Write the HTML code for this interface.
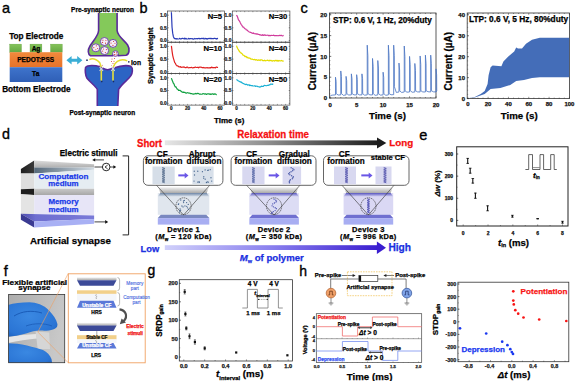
<!DOCTYPE html>
<html><head><meta charset="utf-8"><style>
html,body{margin:0;padding:0;background:#fff;}
svg{display:block;}
text{font-family:"Liberation Sans",sans-serif;}
</style></head><body>
<svg width="575" height="381" viewBox="0 0 575 381">
<rect x="0" y="0" width="575" height="381" fill="#fff"/>
<text transform="translate(2.10,12.90) scale(1,1.0)" x="0" y="0" font-size="14.5" font-weight="normal" fill="#000" stroke="#000" stroke-width="0.35" text-anchor="start" font-family="Liberation Sans"  style="">a</text>
<text transform="translate(9.20,39.20) scale(1,1.0)" x="0" y="0" font-size="8.2" font-weight="bold" fill="#000" stroke="#000" stroke-width="0.25" text-anchor="start" font-family="Liberation Sans"  style="">Top Electrode</text>
<text transform="translate(2.20,92.20) scale(1,1.0)" x="0" y="0" font-size="8.2" font-weight="bold" fill="#000" stroke="#000" stroke-width="0.25" text-anchor="start" font-family="Liberation Sans"  style="">Bottom Electrode</text>
<defs><linearGradient id="gOr" x1="0" y1="0" x2="0" y2="1"><stop offset="0" stop-color="#f28a3c"/><stop offset="1" stop-color="#e6722a"/></linearGradient><linearGradient id="gBl" x1="0" y1="0" x2="0" y2="1"><stop offset="0" stop-color="#3f74cc"/><stop offset="1" stop-color="#2f5fb6"/></linearGradient><linearGradient id="gGr" x1="0" y1="0" x2="0" y2="1"><stop offset="0" stop-color="#86c45a"/><stop offset="1" stop-color="#66a844"/></linearGradient></defs>
<rect x="9.70" y="44.10" width="11.80" height="8.10" fill="url(#gGr)" stroke="#5a9a3a" stroke-width="0.3" />
<rect x="30.00" y="44.10" width="11.90" height="8.10" fill="url(#gGr)" stroke="#5a9a3a" stroke-width="0.3" />
<rect x="50.50" y="44.10" width="11.80" height="8.10" fill="url(#gGr)" stroke="#5a9a3a" stroke-width="0.3" />
<rect x="9.70" y="52.20" width="52.60" height="15.00" fill="url(#gOr)" stroke="none" stroke-width="0" />
<rect x="9.70" y="67.20" width="52.60" height="14.80" fill="url(#gBl)" stroke="none" stroke-width="0" />
<text transform="translate(36.00,50.60) scale(1,1.0)" x="0" y="0" font-size="6.5" font-weight="bold" fill="#000" stroke="#000" stroke-width="0.25" text-anchor="middle" font-family="Liberation Sans"  style="">Ag</text>
<text transform="translate(35.70,61.90) scale(1,1.0)" x="0" y="0" font-size="6.5" font-weight="bold" fill="#000" stroke="#000" stroke-width="0.25" text-anchor="middle" font-family="Liberation Sans"  style="">PEDOT:PSS</text>
<text transform="translate(35.70,75.60) scale(1,1.0)" x="0" y="0" font-size="6.6" font-weight="bold" fill="#000" stroke="#000" stroke-width="0.25" text-anchor="middle" font-family="Liberation Sans"  style="">Ta</text>
<polygon points="66.40,60.20 71.60,56.00 71.60,58.70 77.20,58.70 77.20,56.00 82.40,60.20 77.20,64.40 77.20,61.70 71.60,61.70 71.60,64.40" fill="#3aaed6" stroke="none" stroke-width="0" />
<text transform="translate(71.10,11.70) scale(1,1.0)" x="0" y="0" font-size="6.5" font-weight="bold" fill="#000" stroke="#000" stroke-width="0.25" text-anchor="start" font-family="Liberation Sans"  style="">Pre-synaptic neuron</text>
<text transform="translate(69.40,115.20) scale(1,1.0)" x="0" y="0" font-size="6.45" font-weight="bold" fill="#000" stroke="#000" stroke-width="0.25" text-anchor="start" font-family="Liberation Sans"  style="">Post-synaptic neuron</text>
<text transform="translate(131.00,64.60) scale(1,1.0)" x="0" y="0" font-size="6.7" font-weight="bold" fill="#000" stroke="#000" stroke-width="0.25" text-anchor="start" font-family="Liberation Sans"  style="">ion</text>
<path d="M98.6,13 L98.6,30.5 C98.3,36 93,41 90,46 C87.5,50 87.8,54.3 90.5,55.7 L112.6,55.7 C113.5,52 117.5,52 118.3,55.7 L126,55.2 C129.6,54.2 129.8,48.5 127.6,45 C124.6,40.3 117.6,36.4 117.1,30.5 L117.1,13 Z" fill="#84c95a" stroke="none" stroke-width="1" />
<path d="M98.6,13 L98.6,30.5 C98.3,36 93,41 90,46 C87.5,50 87.8,54.3 90.5,55.7 L112.6,55.7 C113.5,52 117.5,52 118.3,55.7 L126,55.2 C129.6,54.2 129.8,48.5 127.6,45 C124.6,40.3 117.6,36.4 117.1,30.5 L117.1,13" fill="none" stroke="#5a2a9a" stroke-width="1.6" />
<circle cx="104.40" cy="41.50" r="4.00" fill="#f4eef8" stroke="#6a3aa8" stroke-width="0.9" />
<circle cx="102.91" cy="40.17" r="0.55" fill="#d03030" stroke="none" stroke-width="0" />
<circle cx="105.91" cy="40.19" r="0.55" fill="#d03030" stroke="none" stroke-width="0" />
<circle cx="105.50" cy="43.17" r="0.55" fill="#d03030" stroke="none" stroke-width="0" />
<circle cx="102.60" cy="42.38" r="0.55" fill="#d03030" stroke="none" stroke-width="0" />
<circle cx="113.00" cy="43.40" r="4.00" fill="#f4eef8" stroke="#6a3aa8" stroke-width="0.9" />
<circle cx="114.99" cy="43.21" r="0.55" fill="#d03030" stroke="none" stroke-width="0" />
<circle cx="112.94" cy="45.40" r="0.55" fill="#d03030" stroke="none" stroke-width="0" />
<circle cx="111.03" cy="43.08" r="0.55" fill="#d03030" stroke="none" stroke-width="0" />
<circle cx="113.57" cy="41.48" r="0.55" fill="#d03030" stroke="none" stroke-width="0" />
<circle cx="95.80" cy="47.80" r="4.00" fill="#f4eef8" stroke="#6a3aa8" stroke-width="0.9" />
<circle cx="95.84" cy="49.80" r="0.55" fill="#d03030" stroke="none" stroke-width="0" />
<circle cx="93.81" cy="47.58" r="0.55" fill="#d03030" stroke="none" stroke-width="0" />
<circle cx="96.28" cy="45.86" r="0.55" fill="#d03030" stroke="none" stroke-width="0" />
<circle cx="97.67" cy="48.52" r="0.55" fill="#d03030" stroke="none" stroke-width="0" />
<circle cx="104.60" cy="50.60" r="4.00" fill="#f4eef8" stroke="#6a3aa8" stroke-width="0.9" />
<circle cx="103.40" cy="49.00" r="0.55" fill="#d03030" stroke="none" stroke-width="0" />
<circle cx="106.34" cy="49.62" r="0.55" fill="#d03030" stroke="none" stroke-width="0" />
<circle cx="105.35" cy="52.45" r="0.55" fill="#d03030" stroke="none" stroke-width="0" />
<circle cx="102.67" cy="51.11" r="0.55" fill="#d03030" stroke="none" stroke-width="0" />
<circle cx="115.40" cy="53.60" r="2.80" fill="#f4eef8" stroke="#6a3aa8" stroke-width="0.9" />
<circle cx="114.46" cy="54.64" r="0.55" fill="#d03030" stroke="none" stroke-width="0" />
<circle cx="114.49" cy="52.54" r="0.55" fill="#d03030" stroke="none" stroke-width="0" />
<circle cx="116.57" cy="52.83" r="0.55" fill="#d03030" stroke="none" stroke-width="0" />
<circle cx="116.01" cy="54.86" r="0.55" fill="#d03030" stroke="none" stroke-width="0" />
<circle cx="112.00" cy="59.00" r="0.50" fill="#d03030" stroke="none" stroke-width="0" />
<circle cx="114.50" cy="58.50" r="0.50" fill="#d03030" stroke="none" stroke-width="0" />
<circle cx="111.50" cy="61.50" r="0.50" fill="#d03030" stroke="none" stroke-width="0" />
<circle cx="114.00" cy="61.20" r="0.50" fill="#d03030" stroke="none" stroke-width="0" />
<circle cx="113.00" cy="63.50" r="0.50" fill="#d03030" stroke="none" stroke-width="0" />
<path d="M97.3,106 L97.3,89.4 C95.5,86 90,82 87,78.3 C85.2,75.5 85,70 85.6,67.4 C87,65.5 92,65.3 96,65.8 C101,66.5 104,69.7 107.6,69.7 C111,69.7 117,66 125.7,65.6 C129,65.5 131.6,66.2 132.2,68.4 C132.8,71.5 131.5,75.6 128.8,78.3 C126,81.2 121,85 118.6,89.4 L117.8,106 Z" fill="#2c64c4" stroke="none" stroke-width="1" />
<path d="M97.3,106 L97.3,89.4 C95.5,86 90,82 87,78.3 C85.2,75.5 85,70 85.6,67.4 C87,65.5 92,65.3 96,65.8 C101,66.5 104,69.7 107.6,69.7 C111,69.7 117,66 125.7,65.6 C129,65.5 131.6,66.2 132.2,68.4 C132.8,71.5 131.5,75.6 128.8,78.3 C126,81.2 121,85 118.6,89.4 L117.8,106" fill="none" stroke="#5a2a9a" stroke-width="1.6" />
<line x1="101.30" y1="70.20" x2="101.30" y2="80.60" stroke="#e8e23a" stroke-width="1.6" />
<line x1="99.60" y1="66.80" x2="103.00" y2="70.80" stroke="#d8d8d8" stroke-width="1.1" />
<line x1="103.00" y1="66.80" x2="99.60" y2="70.80" stroke="#d8d8d8" stroke-width="1.1" />
<circle cx="101.80" cy="81.60" r="0.80" fill="#1a2a60" stroke="none" stroke-width="0" />
<circle cx="99.80" cy="65.60" r="0.45" fill="#d03030" stroke="none" stroke-width="0" />
<circle cx="102.50" cy="65.20" r="0.45" fill="#d03030" stroke="none" stroke-width="0" />
<line x1="113.00" y1="70.20" x2="113.00" y2="80.60" stroke="#e8e23a" stroke-width="1.6" />
<line x1="111.30" y1="66.80" x2="114.70" y2="70.80" stroke="#d8d8d8" stroke-width="1.1" />
<line x1="114.70" y1="66.80" x2="111.30" y2="70.80" stroke="#d8d8d8" stroke-width="1.1" />
<circle cx="113.50" cy="81.60" r="0.80" fill="#1a2a60" stroke="none" stroke-width="0" />
<circle cx="111.50" cy="65.60" r="0.45" fill="#d03030" stroke="none" stroke-width="0" />
<circle cx="114.20" cy="65.20" r="0.45" fill="#d03030" stroke="none" stroke-width="0" />
<path d="M89.4,59.6 C92,58.2 95.5,58.4 99.7,62.6 L101.3,67" fill="none" stroke="#e4dc30" stroke-width="1.5" />
<path d="M127.2,60.9 C124,59.2 120,59.6 117.4,61.4 C115,63 113.8,65 113.2,67" fill="none" stroke="#e4dc30" stroke-width="1.5" />
<circle cx="87.00" cy="60.20" r="0.85" fill="#1a2a60" stroke="none" stroke-width="0" />
<circle cx="128.80" cy="61.80" r="0.85" fill="#1a2a60" stroke="none" stroke-width="0" />
<text transform="translate(139.50,12.90) scale(1,1.0)" x="0" y="0" font-size="14.5" font-weight="normal" fill="#000" stroke="#000" stroke-width="0.35" text-anchor="start" font-family="Liberation Sans"  style="">b</text>
<text transform="translate(153.00,55.75) rotate(-90) scale(1,1.0)" x="0" y="0" font-size="7.45" font-weight="bold" fill="#000" stroke="#000" stroke-width="0.25" text-anchor="middle" font-family="Liberation Sans" >Synaptic weight</text>
<text transform="translate(229.20,123.00) scale(1,1.0)" x="0" y="0" font-size="8.0" font-weight="bold" fill="#000" stroke="#000" stroke-width="0.25" text-anchor="middle" font-family="Liberation Sans"  style="">Time (s)</text>
<rect x="167.60" y="11.00" width="57.00" height="31.20" fill="none" stroke="#444" stroke-width="0.7" />
<text transform="translate(166.70,17.00) scale(1,1.0)" x="0" y="0" font-size="4.9" font-weight="bold" fill="#111" stroke="#111" stroke-width="0.2" text-anchor="end" font-family="Liberation Sans"  style="">1.0</text>
<line x1="167.60" y1="15.20" x2="168.80" y2="15.20" stroke="#444" stroke-width="0.5" />
<line x1="224.60" y1="15.20" x2="223.40" y2="15.20" stroke="#444" stroke-width="0.5" />
<text transform="translate(166.70,29.60) scale(1,1.0)" x="0" y="0" font-size="4.9" font-weight="bold" fill="#111" stroke="#111" stroke-width="0.2" text-anchor="end" font-family="Liberation Sans"  style="">0.5</text>
<line x1="167.60" y1="27.80" x2="168.80" y2="27.80" stroke="#444" stroke-width="0.5" />
<line x1="224.60" y1="27.80" x2="223.40" y2="27.80" stroke="#444" stroke-width="0.5" />
<text transform="translate(166.70,42.20) scale(1,1.0)" x="0" y="0" font-size="4.9" font-weight="bold" fill="#111" stroke="#111" stroke-width="0.2" text-anchor="end" font-family="Liberation Sans"  style="">0.0</text>
<line x1="167.60" y1="40.40" x2="168.80" y2="40.40" stroke="#444" stroke-width="0.5" />
<line x1="224.60" y1="40.40" x2="223.40" y2="40.40" stroke="#444" stroke-width="0.5" />
<line x1="171.40" y1="42.20" x2="171.40" y2="41.00" stroke="#444" stroke-width="0.5" />
<line x1="171.40" y1="11.00" x2="171.40" y2="12.20" stroke="#444" stroke-width="0.5" />
<line x1="175.45" y1="42.20" x2="175.45" y2="41.50" stroke="#444" stroke-width="0.5" />
<line x1="175.45" y1="11.00" x2="175.45" y2="11.70" stroke="#444" stroke-width="0.5" />
<line x1="179.50" y1="42.20" x2="179.50" y2="41.00" stroke="#444" stroke-width="0.5" />
<line x1="179.50" y1="11.00" x2="179.50" y2="12.20" stroke="#444" stroke-width="0.5" />
<line x1="183.55" y1="42.20" x2="183.55" y2="41.50" stroke="#444" stroke-width="0.5" />
<line x1="183.55" y1="11.00" x2="183.55" y2="11.70" stroke="#444" stroke-width="0.5" />
<line x1="187.60" y1="42.20" x2="187.60" y2="41.00" stroke="#444" stroke-width="0.5" />
<line x1="187.60" y1="11.00" x2="187.60" y2="12.20" stroke="#444" stroke-width="0.5" />
<line x1="191.65" y1="42.20" x2="191.65" y2="41.50" stroke="#444" stroke-width="0.5" />
<line x1="191.65" y1="11.00" x2="191.65" y2="11.70" stroke="#444" stroke-width="0.5" />
<line x1="195.70" y1="42.20" x2="195.70" y2="41.00" stroke="#444" stroke-width="0.5" />
<line x1="195.70" y1="11.00" x2="195.70" y2="12.20" stroke="#444" stroke-width="0.5" />
<line x1="199.75" y1="42.20" x2="199.75" y2="41.50" stroke="#444" stroke-width="0.5" />
<line x1="199.75" y1="11.00" x2="199.75" y2="11.70" stroke="#444" stroke-width="0.5" />
<line x1="203.80" y1="42.20" x2="203.80" y2="41.00" stroke="#444" stroke-width="0.5" />
<line x1="203.80" y1="11.00" x2="203.80" y2="12.20" stroke="#444" stroke-width="0.5" />
<line x1="207.85" y1="42.20" x2="207.85" y2="41.50" stroke="#444" stroke-width="0.5" />
<line x1="207.85" y1="11.00" x2="207.85" y2="11.70" stroke="#444" stroke-width="0.5" />
<line x1="211.90" y1="42.20" x2="211.90" y2="41.00" stroke="#444" stroke-width="0.5" />
<line x1="211.90" y1="11.00" x2="211.90" y2="12.20" stroke="#444" stroke-width="0.5" />
<line x1="215.95" y1="42.20" x2="215.95" y2="41.50" stroke="#444" stroke-width="0.5" />
<line x1="215.95" y1="11.00" x2="215.95" y2="11.70" stroke="#444" stroke-width="0.5" />
<line x1="220.00" y1="42.20" x2="220.00" y2="41.00" stroke="#444" stroke-width="0.5" />
<line x1="220.00" y1="11.00" x2="220.00" y2="12.20" stroke="#444" stroke-width="0.5" />
<line x1="167.60" y1="40.40" x2="168.30" y2="40.40" stroke="#444" stroke-width="0.4" />
<line x1="224.60" y1="40.40" x2="223.90" y2="40.40" stroke="#444" stroke-width="0.4" />
<line x1="167.60" y1="37.88" x2="168.30" y2="37.88" stroke="#444" stroke-width="0.4" />
<line x1="224.60" y1="37.88" x2="223.90" y2="37.88" stroke="#444" stroke-width="0.4" />
<line x1="167.60" y1="35.36" x2="168.30" y2="35.36" stroke="#444" stroke-width="0.4" />
<line x1="224.60" y1="35.36" x2="223.90" y2="35.36" stroke="#444" stroke-width="0.4" />
<line x1="167.60" y1="32.84" x2="168.30" y2="32.84" stroke="#444" stroke-width="0.4" />
<line x1="224.60" y1="32.84" x2="223.90" y2="32.84" stroke="#444" stroke-width="0.4" />
<line x1="167.60" y1="30.32" x2="168.30" y2="30.32" stroke="#444" stroke-width="0.4" />
<line x1="224.60" y1="30.32" x2="223.90" y2="30.32" stroke="#444" stroke-width="0.4" />
<line x1="167.60" y1="27.80" x2="168.30" y2="27.80" stroke="#444" stroke-width="0.4" />
<line x1="224.60" y1="27.80" x2="223.90" y2="27.80" stroke="#444" stroke-width="0.4" />
<line x1="167.60" y1="25.28" x2="168.30" y2="25.28" stroke="#444" stroke-width="0.4" />
<line x1="224.60" y1="25.28" x2="223.90" y2="25.28" stroke="#444" stroke-width="0.4" />
<line x1="167.60" y1="22.76" x2="168.30" y2="22.76" stroke="#444" stroke-width="0.4" />
<line x1="224.60" y1="22.76" x2="223.90" y2="22.76" stroke="#444" stroke-width="0.4" />
<line x1="167.60" y1="20.24" x2="168.30" y2="20.24" stroke="#444" stroke-width="0.4" />
<line x1="224.60" y1="20.24" x2="223.90" y2="20.24" stroke="#444" stroke-width="0.4" />
<line x1="167.60" y1="17.72" x2="168.30" y2="17.72" stroke="#444" stroke-width="0.4" />
<line x1="224.60" y1="17.72" x2="223.90" y2="17.72" stroke="#444" stroke-width="0.4" />
<line x1="167.60" y1="15.20" x2="168.30" y2="15.20" stroke="#444" stroke-width="0.4" />
<line x1="224.60" y1="15.20" x2="223.90" y2="15.20" stroke="#444" stroke-width="0.4" />
<rect x="167.60" y="42.20" width="57.00" height="31.40" fill="none" stroke="#444" stroke-width="0.7" />
<text transform="translate(166.70,48.20) scale(1,1.0)" x="0" y="0" font-size="4.9" font-weight="bold" fill="#111" stroke="#111" stroke-width="0.2" text-anchor="end" font-family="Liberation Sans"  style="">1.0</text>
<line x1="167.60" y1="46.40" x2="168.80" y2="46.40" stroke="#444" stroke-width="0.5" />
<line x1="224.60" y1="46.40" x2="223.40" y2="46.40" stroke="#444" stroke-width="0.5" />
<text transform="translate(166.70,60.90) scale(1,1.0)" x="0" y="0" font-size="4.9" font-weight="bold" fill="#111" stroke="#111" stroke-width="0.2" text-anchor="end" font-family="Liberation Sans"  style="">0.5</text>
<line x1="167.60" y1="59.10" x2="168.80" y2="59.10" stroke="#444" stroke-width="0.5" />
<line x1="224.60" y1="59.10" x2="223.40" y2="59.10" stroke="#444" stroke-width="0.5" />
<text transform="translate(166.70,73.60) scale(1,1.0)" x="0" y="0" font-size="4.9" font-weight="bold" fill="#111" stroke="#111" stroke-width="0.2" text-anchor="end" font-family="Liberation Sans"  style="">0.0</text>
<line x1="167.60" y1="71.80" x2="168.80" y2="71.80" stroke="#444" stroke-width="0.5" />
<line x1="224.60" y1="71.80" x2="223.40" y2="71.80" stroke="#444" stroke-width="0.5" />
<line x1="171.40" y1="73.60" x2="171.40" y2="72.40" stroke="#444" stroke-width="0.5" />
<line x1="171.40" y1="42.20" x2="171.40" y2="43.40" stroke="#444" stroke-width="0.5" />
<line x1="175.45" y1="73.60" x2="175.45" y2="72.90" stroke="#444" stroke-width="0.5" />
<line x1="175.45" y1="42.20" x2="175.45" y2="42.90" stroke="#444" stroke-width="0.5" />
<line x1="179.50" y1="73.60" x2="179.50" y2="72.40" stroke="#444" stroke-width="0.5" />
<line x1="179.50" y1="42.20" x2="179.50" y2="43.40" stroke="#444" stroke-width="0.5" />
<line x1="183.55" y1="73.60" x2="183.55" y2="72.90" stroke="#444" stroke-width="0.5" />
<line x1="183.55" y1="42.20" x2="183.55" y2="42.90" stroke="#444" stroke-width="0.5" />
<line x1="187.60" y1="73.60" x2="187.60" y2="72.40" stroke="#444" stroke-width="0.5" />
<line x1="187.60" y1="42.20" x2="187.60" y2="43.40" stroke="#444" stroke-width="0.5" />
<line x1="191.65" y1="73.60" x2="191.65" y2="72.90" stroke="#444" stroke-width="0.5" />
<line x1="191.65" y1="42.20" x2="191.65" y2="42.90" stroke="#444" stroke-width="0.5" />
<line x1="195.70" y1="73.60" x2="195.70" y2="72.40" stroke="#444" stroke-width="0.5" />
<line x1="195.70" y1="42.20" x2="195.70" y2="43.40" stroke="#444" stroke-width="0.5" />
<line x1="199.75" y1="73.60" x2="199.75" y2="72.90" stroke="#444" stroke-width="0.5" />
<line x1="199.75" y1="42.20" x2="199.75" y2="42.90" stroke="#444" stroke-width="0.5" />
<line x1="203.80" y1="73.60" x2="203.80" y2="72.40" stroke="#444" stroke-width="0.5" />
<line x1="203.80" y1="42.20" x2="203.80" y2="43.40" stroke="#444" stroke-width="0.5" />
<line x1="207.85" y1="73.60" x2="207.85" y2="72.90" stroke="#444" stroke-width="0.5" />
<line x1="207.85" y1="42.20" x2="207.85" y2="42.90" stroke="#444" stroke-width="0.5" />
<line x1="211.90" y1="73.60" x2="211.90" y2="72.40" stroke="#444" stroke-width="0.5" />
<line x1="211.90" y1="42.20" x2="211.90" y2="43.40" stroke="#444" stroke-width="0.5" />
<line x1="215.95" y1="73.60" x2="215.95" y2="72.90" stroke="#444" stroke-width="0.5" />
<line x1="215.95" y1="42.20" x2="215.95" y2="42.90" stroke="#444" stroke-width="0.5" />
<line x1="220.00" y1="73.60" x2="220.00" y2="72.40" stroke="#444" stroke-width="0.5" />
<line x1="220.00" y1="42.20" x2="220.00" y2="43.40" stroke="#444" stroke-width="0.5" />
<line x1="167.60" y1="71.80" x2="168.30" y2="71.80" stroke="#444" stroke-width="0.4" />
<line x1="224.60" y1="71.80" x2="223.90" y2="71.80" stroke="#444" stroke-width="0.4" />
<line x1="167.60" y1="69.26" x2="168.30" y2="69.26" stroke="#444" stroke-width="0.4" />
<line x1="224.60" y1="69.26" x2="223.90" y2="69.26" stroke="#444" stroke-width="0.4" />
<line x1="167.60" y1="66.72" x2="168.30" y2="66.72" stroke="#444" stroke-width="0.4" />
<line x1="224.60" y1="66.72" x2="223.90" y2="66.72" stroke="#444" stroke-width="0.4" />
<line x1="167.60" y1="64.18" x2="168.30" y2="64.18" stroke="#444" stroke-width="0.4" />
<line x1="224.60" y1="64.18" x2="223.90" y2="64.18" stroke="#444" stroke-width="0.4" />
<line x1="167.60" y1="61.64" x2="168.30" y2="61.64" stroke="#444" stroke-width="0.4" />
<line x1="224.60" y1="61.64" x2="223.90" y2="61.64" stroke="#444" stroke-width="0.4" />
<line x1="167.60" y1="59.10" x2="168.30" y2="59.10" stroke="#444" stroke-width="0.4" />
<line x1="224.60" y1="59.10" x2="223.90" y2="59.10" stroke="#444" stroke-width="0.4" />
<line x1="167.60" y1="56.56" x2="168.30" y2="56.56" stroke="#444" stroke-width="0.4" />
<line x1="224.60" y1="56.56" x2="223.90" y2="56.56" stroke="#444" stroke-width="0.4" />
<line x1="167.60" y1="54.02" x2="168.30" y2="54.02" stroke="#444" stroke-width="0.4" />
<line x1="224.60" y1="54.02" x2="223.90" y2="54.02" stroke="#444" stroke-width="0.4" />
<line x1="167.60" y1="51.48" x2="168.30" y2="51.48" stroke="#444" stroke-width="0.4" />
<line x1="224.60" y1="51.48" x2="223.90" y2="51.48" stroke="#444" stroke-width="0.4" />
<line x1="167.60" y1="48.94" x2="168.30" y2="48.94" stroke="#444" stroke-width="0.4" />
<line x1="224.60" y1="48.94" x2="223.90" y2="48.94" stroke="#444" stroke-width="0.4" />
<line x1="167.60" y1="46.40" x2="168.30" y2="46.40" stroke="#444" stroke-width="0.4" />
<line x1="224.60" y1="46.40" x2="223.90" y2="46.40" stroke="#444" stroke-width="0.4" />
<rect x="167.60" y="73.60" width="57.00" height="31.50" fill="none" stroke="#444" stroke-width="0.7" />
<text transform="translate(166.70,79.60) scale(1,1.0)" x="0" y="0" font-size="4.9" font-weight="bold" fill="#111" stroke="#111" stroke-width="0.2" text-anchor="end" font-family="Liberation Sans"  style="">1.0</text>
<line x1="167.60" y1="77.80" x2="168.80" y2="77.80" stroke="#444" stroke-width="0.5" />
<line x1="224.60" y1="77.80" x2="223.40" y2="77.80" stroke="#444" stroke-width="0.5" />
<text transform="translate(166.70,92.35) scale(1,1.0)" x="0" y="0" font-size="4.9" font-weight="bold" fill="#111" stroke="#111" stroke-width="0.2" text-anchor="end" font-family="Liberation Sans"  style="">0.5</text>
<line x1="167.60" y1="90.55" x2="168.80" y2="90.55" stroke="#444" stroke-width="0.5" />
<line x1="224.60" y1="90.55" x2="223.40" y2="90.55" stroke="#444" stroke-width="0.5" />
<text transform="translate(166.70,105.10) scale(1,1.0)" x="0" y="0" font-size="4.9" font-weight="bold" fill="#111" stroke="#111" stroke-width="0.2" text-anchor="end" font-family="Liberation Sans"  style="">0.0</text>
<line x1="167.60" y1="103.30" x2="168.80" y2="103.30" stroke="#444" stroke-width="0.5" />
<line x1="224.60" y1="103.30" x2="223.40" y2="103.30" stroke="#444" stroke-width="0.5" />
<line x1="171.40" y1="105.10" x2="171.40" y2="103.90" stroke="#444" stroke-width="0.5" />
<line x1="171.40" y1="73.60" x2="171.40" y2="74.80" stroke="#444" stroke-width="0.5" />
<line x1="175.45" y1="105.10" x2="175.45" y2="104.40" stroke="#444" stroke-width="0.5" />
<line x1="175.45" y1="73.60" x2="175.45" y2="74.30" stroke="#444" stroke-width="0.5" />
<line x1="179.50" y1="105.10" x2="179.50" y2="103.90" stroke="#444" stroke-width="0.5" />
<line x1="179.50" y1="73.60" x2="179.50" y2="74.80" stroke="#444" stroke-width="0.5" />
<line x1="183.55" y1="105.10" x2="183.55" y2="104.40" stroke="#444" stroke-width="0.5" />
<line x1="183.55" y1="73.60" x2="183.55" y2="74.30" stroke="#444" stroke-width="0.5" />
<line x1="187.60" y1="105.10" x2="187.60" y2="103.90" stroke="#444" stroke-width="0.5" />
<line x1="187.60" y1="73.60" x2="187.60" y2="74.80" stroke="#444" stroke-width="0.5" />
<line x1="191.65" y1="105.10" x2="191.65" y2="104.40" stroke="#444" stroke-width="0.5" />
<line x1="191.65" y1="73.60" x2="191.65" y2="74.30" stroke="#444" stroke-width="0.5" />
<line x1="195.70" y1="105.10" x2="195.70" y2="103.90" stroke="#444" stroke-width="0.5" />
<line x1="195.70" y1="73.60" x2="195.70" y2="74.80" stroke="#444" stroke-width="0.5" />
<line x1="199.75" y1="105.10" x2="199.75" y2="104.40" stroke="#444" stroke-width="0.5" />
<line x1="199.75" y1="73.60" x2="199.75" y2="74.30" stroke="#444" stroke-width="0.5" />
<line x1="203.80" y1="105.10" x2="203.80" y2="103.90" stroke="#444" stroke-width="0.5" />
<line x1="203.80" y1="73.60" x2="203.80" y2="74.80" stroke="#444" stroke-width="0.5" />
<line x1="207.85" y1="105.10" x2="207.85" y2="104.40" stroke="#444" stroke-width="0.5" />
<line x1="207.85" y1="73.60" x2="207.85" y2="74.30" stroke="#444" stroke-width="0.5" />
<line x1="211.90" y1="105.10" x2="211.90" y2="103.90" stroke="#444" stroke-width="0.5" />
<line x1="211.90" y1="73.60" x2="211.90" y2="74.80" stroke="#444" stroke-width="0.5" />
<line x1="215.95" y1="105.10" x2="215.95" y2="104.40" stroke="#444" stroke-width="0.5" />
<line x1="215.95" y1="73.60" x2="215.95" y2="74.30" stroke="#444" stroke-width="0.5" />
<line x1="220.00" y1="105.10" x2="220.00" y2="103.90" stroke="#444" stroke-width="0.5" />
<line x1="220.00" y1="73.60" x2="220.00" y2="74.80" stroke="#444" stroke-width="0.5" />
<line x1="167.60" y1="103.30" x2="168.30" y2="103.30" stroke="#444" stroke-width="0.4" />
<line x1="224.60" y1="103.30" x2="223.90" y2="103.30" stroke="#444" stroke-width="0.4" />
<line x1="167.60" y1="100.75" x2="168.30" y2="100.75" stroke="#444" stroke-width="0.4" />
<line x1="224.60" y1="100.75" x2="223.90" y2="100.75" stroke="#444" stroke-width="0.4" />
<line x1="167.60" y1="98.20" x2="168.30" y2="98.20" stroke="#444" stroke-width="0.4" />
<line x1="224.60" y1="98.20" x2="223.90" y2="98.20" stroke="#444" stroke-width="0.4" />
<line x1="167.60" y1="95.65" x2="168.30" y2="95.65" stroke="#444" stroke-width="0.4" />
<line x1="224.60" y1="95.65" x2="223.90" y2="95.65" stroke="#444" stroke-width="0.4" />
<line x1="167.60" y1="93.10" x2="168.30" y2="93.10" stroke="#444" stroke-width="0.4" />
<line x1="224.60" y1="93.10" x2="223.90" y2="93.10" stroke="#444" stroke-width="0.4" />
<line x1="167.60" y1="90.55" x2="168.30" y2="90.55" stroke="#444" stroke-width="0.4" />
<line x1="224.60" y1="90.55" x2="223.90" y2="90.55" stroke="#444" stroke-width="0.4" />
<line x1="167.60" y1="88.00" x2="168.30" y2="88.00" stroke="#444" stroke-width="0.4" />
<line x1="224.60" y1="88.00" x2="223.90" y2="88.00" stroke="#444" stroke-width="0.4" />
<line x1="167.60" y1="85.45" x2="168.30" y2="85.45" stroke="#444" stroke-width="0.4" />
<line x1="224.60" y1="85.45" x2="223.90" y2="85.45" stroke="#444" stroke-width="0.4" />
<line x1="167.60" y1="82.90" x2="168.30" y2="82.90" stroke="#444" stroke-width="0.4" />
<line x1="224.60" y1="82.90" x2="223.90" y2="82.90" stroke="#444" stroke-width="0.4" />
<line x1="167.60" y1="80.35" x2="168.30" y2="80.35" stroke="#444" stroke-width="0.4" />
<line x1="224.60" y1="80.35" x2="223.90" y2="80.35" stroke="#444" stroke-width="0.4" />
<line x1="167.60" y1="77.80" x2="168.30" y2="77.80" stroke="#444" stroke-width="0.4" />
<line x1="224.60" y1="77.80" x2="223.90" y2="77.80" stroke="#444" stroke-width="0.4" />
<text transform="translate(171.40,110.40) scale(1,1.0)" x="0" y="0" font-size="4.6" font-weight="bold" fill="#111" stroke="#111" stroke-width="0.2" text-anchor="middle" font-family="Liberation Sans"  style="">0</text>
<text transform="translate(187.60,110.40) scale(1,1.0)" x="0" y="0" font-size="4.6" font-weight="bold" fill="#111" stroke="#111" stroke-width="0.2" text-anchor="middle" font-family="Liberation Sans"  style="">20</text>
<text transform="translate(203.80,110.40) scale(1,1.0)" x="0" y="0" font-size="4.6" font-weight="bold" fill="#111" stroke="#111" stroke-width="0.2" text-anchor="middle" font-family="Liberation Sans"  style="">40</text>
<text transform="translate(220.00,110.40) scale(1,1.0)" x="0" y="0" font-size="4.6" font-weight="bold" fill="#111" stroke="#111" stroke-width="0.2" text-anchor="middle" font-family="Liberation Sans"  style="">60</text>
<rect x="232.30" y="11.00" width="57.60" height="31.20" fill="none" stroke="#444" stroke-width="0.7" />
<text transform="translate(231.40,17.00) scale(1,1.0)" x="0" y="0" font-size="4.9" font-weight="bold" fill="#111" stroke="#111" stroke-width="0.2" text-anchor="end" font-family="Liberation Sans"  style="">1.0</text>
<line x1="232.30" y1="15.20" x2="233.50" y2="15.20" stroke="#444" stroke-width="0.5" />
<line x1="289.90" y1="15.20" x2="288.70" y2="15.20" stroke="#444" stroke-width="0.5" />
<text transform="translate(231.40,29.60) scale(1,1.0)" x="0" y="0" font-size="4.9" font-weight="bold" fill="#111" stroke="#111" stroke-width="0.2" text-anchor="end" font-family="Liberation Sans"  style="">0.5</text>
<line x1="232.30" y1="27.80" x2="233.50" y2="27.80" stroke="#444" stroke-width="0.5" />
<line x1="289.90" y1="27.80" x2="288.70" y2="27.80" stroke="#444" stroke-width="0.5" />
<text transform="translate(231.40,42.20) scale(1,1.0)" x="0" y="0" font-size="4.9" font-weight="bold" fill="#111" stroke="#111" stroke-width="0.2" text-anchor="end" font-family="Liberation Sans"  style="">0.0</text>
<line x1="232.30" y1="40.40" x2="233.50" y2="40.40" stroke="#444" stroke-width="0.5" />
<line x1="289.90" y1="40.40" x2="288.70" y2="40.40" stroke="#444" stroke-width="0.5" />
<line x1="236.50" y1="42.20" x2="236.50" y2="41.00" stroke="#444" stroke-width="0.5" />
<line x1="236.50" y1="11.00" x2="236.50" y2="12.20" stroke="#444" stroke-width="0.5" />
<line x1="240.59" y1="42.20" x2="240.59" y2="41.50" stroke="#444" stroke-width="0.5" />
<line x1="240.59" y1="11.00" x2="240.59" y2="11.70" stroke="#444" stroke-width="0.5" />
<line x1="244.68" y1="42.20" x2="244.68" y2="41.00" stroke="#444" stroke-width="0.5" />
<line x1="244.68" y1="11.00" x2="244.68" y2="12.20" stroke="#444" stroke-width="0.5" />
<line x1="248.77" y1="42.20" x2="248.77" y2="41.50" stroke="#444" stroke-width="0.5" />
<line x1="248.77" y1="11.00" x2="248.77" y2="11.70" stroke="#444" stroke-width="0.5" />
<line x1="252.86" y1="42.20" x2="252.86" y2="41.00" stroke="#444" stroke-width="0.5" />
<line x1="252.86" y1="11.00" x2="252.86" y2="12.20" stroke="#444" stroke-width="0.5" />
<line x1="256.95" y1="42.20" x2="256.95" y2="41.50" stroke="#444" stroke-width="0.5" />
<line x1="256.95" y1="11.00" x2="256.95" y2="11.70" stroke="#444" stroke-width="0.5" />
<line x1="261.04" y1="42.20" x2="261.04" y2="41.00" stroke="#444" stroke-width="0.5" />
<line x1="261.04" y1="11.00" x2="261.04" y2="12.20" stroke="#444" stroke-width="0.5" />
<line x1="265.13" y1="42.20" x2="265.13" y2="41.50" stroke="#444" stroke-width="0.5" />
<line x1="265.13" y1="11.00" x2="265.13" y2="11.70" stroke="#444" stroke-width="0.5" />
<line x1="269.22" y1="42.20" x2="269.22" y2="41.00" stroke="#444" stroke-width="0.5" />
<line x1="269.22" y1="11.00" x2="269.22" y2="12.20" stroke="#444" stroke-width="0.5" />
<line x1="273.31" y1="42.20" x2="273.31" y2="41.50" stroke="#444" stroke-width="0.5" />
<line x1="273.31" y1="11.00" x2="273.31" y2="11.70" stroke="#444" stroke-width="0.5" />
<line x1="277.40" y1="42.20" x2="277.40" y2="41.00" stroke="#444" stroke-width="0.5" />
<line x1="277.40" y1="11.00" x2="277.40" y2="12.20" stroke="#444" stroke-width="0.5" />
<line x1="281.49" y1="42.20" x2="281.49" y2="41.50" stroke="#444" stroke-width="0.5" />
<line x1="281.49" y1="11.00" x2="281.49" y2="11.70" stroke="#444" stroke-width="0.5" />
<line x1="285.58" y1="42.20" x2="285.58" y2="41.00" stroke="#444" stroke-width="0.5" />
<line x1="285.58" y1="11.00" x2="285.58" y2="12.20" stroke="#444" stroke-width="0.5" />
<line x1="232.30" y1="40.40" x2="233.00" y2="40.40" stroke="#444" stroke-width="0.4" />
<line x1="289.90" y1="40.40" x2="289.20" y2="40.40" stroke="#444" stroke-width="0.4" />
<line x1="232.30" y1="37.88" x2="233.00" y2="37.88" stroke="#444" stroke-width="0.4" />
<line x1="289.90" y1="37.88" x2="289.20" y2="37.88" stroke="#444" stroke-width="0.4" />
<line x1="232.30" y1="35.36" x2="233.00" y2="35.36" stroke="#444" stroke-width="0.4" />
<line x1="289.90" y1="35.36" x2="289.20" y2="35.36" stroke="#444" stroke-width="0.4" />
<line x1="232.30" y1="32.84" x2="233.00" y2="32.84" stroke="#444" stroke-width="0.4" />
<line x1="289.90" y1="32.84" x2="289.20" y2="32.84" stroke="#444" stroke-width="0.4" />
<line x1="232.30" y1="30.32" x2="233.00" y2="30.32" stroke="#444" stroke-width="0.4" />
<line x1="289.90" y1="30.32" x2="289.20" y2="30.32" stroke="#444" stroke-width="0.4" />
<line x1="232.30" y1="27.80" x2="233.00" y2="27.80" stroke="#444" stroke-width="0.4" />
<line x1="289.90" y1="27.80" x2="289.20" y2="27.80" stroke="#444" stroke-width="0.4" />
<line x1="232.30" y1="25.28" x2="233.00" y2="25.28" stroke="#444" stroke-width="0.4" />
<line x1="289.90" y1="25.28" x2="289.20" y2="25.28" stroke="#444" stroke-width="0.4" />
<line x1="232.30" y1="22.76" x2="233.00" y2="22.76" stroke="#444" stroke-width="0.4" />
<line x1="289.90" y1="22.76" x2="289.20" y2="22.76" stroke="#444" stroke-width="0.4" />
<line x1="232.30" y1="20.24" x2="233.00" y2="20.24" stroke="#444" stroke-width="0.4" />
<line x1="289.90" y1="20.24" x2="289.20" y2="20.24" stroke="#444" stroke-width="0.4" />
<line x1="232.30" y1="17.72" x2="233.00" y2="17.72" stroke="#444" stroke-width="0.4" />
<line x1="289.90" y1="17.72" x2="289.20" y2="17.72" stroke="#444" stroke-width="0.4" />
<line x1="232.30" y1="15.20" x2="233.00" y2="15.20" stroke="#444" stroke-width="0.4" />
<line x1="289.90" y1="15.20" x2="289.20" y2="15.20" stroke="#444" stroke-width="0.4" />
<rect x="232.30" y="42.20" width="57.60" height="31.40" fill="none" stroke="#444" stroke-width="0.7" />
<text transform="translate(231.40,48.20) scale(1,1.0)" x="0" y="0" font-size="4.9" font-weight="bold" fill="#111" stroke="#111" stroke-width="0.2" text-anchor="end" font-family="Liberation Sans"  style="">1.0</text>
<line x1="232.30" y1="46.40" x2="233.50" y2="46.40" stroke="#444" stroke-width="0.5" />
<line x1="289.90" y1="46.40" x2="288.70" y2="46.40" stroke="#444" stroke-width="0.5" />
<text transform="translate(231.40,60.90) scale(1,1.0)" x="0" y="0" font-size="4.9" font-weight="bold" fill="#111" stroke="#111" stroke-width="0.2" text-anchor="end" font-family="Liberation Sans"  style="">0.5</text>
<line x1="232.30" y1="59.10" x2="233.50" y2="59.10" stroke="#444" stroke-width="0.5" />
<line x1="289.90" y1="59.10" x2="288.70" y2="59.10" stroke="#444" stroke-width="0.5" />
<text transform="translate(231.40,73.60) scale(1,1.0)" x="0" y="0" font-size="4.9" font-weight="bold" fill="#111" stroke="#111" stroke-width="0.2" text-anchor="end" font-family="Liberation Sans"  style="">0.0</text>
<line x1="232.30" y1="71.80" x2="233.50" y2="71.80" stroke="#444" stroke-width="0.5" />
<line x1="289.90" y1="71.80" x2="288.70" y2="71.80" stroke="#444" stroke-width="0.5" />
<line x1="236.50" y1="73.60" x2="236.50" y2="72.40" stroke="#444" stroke-width="0.5" />
<line x1="236.50" y1="42.20" x2="236.50" y2="43.40" stroke="#444" stroke-width="0.5" />
<line x1="240.59" y1="73.60" x2="240.59" y2="72.90" stroke="#444" stroke-width="0.5" />
<line x1="240.59" y1="42.20" x2="240.59" y2="42.90" stroke="#444" stroke-width="0.5" />
<line x1="244.68" y1="73.60" x2="244.68" y2="72.40" stroke="#444" stroke-width="0.5" />
<line x1="244.68" y1="42.20" x2="244.68" y2="43.40" stroke="#444" stroke-width="0.5" />
<line x1="248.77" y1="73.60" x2="248.77" y2="72.90" stroke="#444" stroke-width="0.5" />
<line x1="248.77" y1="42.20" x2="248.77" y2="42.90" stroke="#444" stroke-width="0.5" />
<line x1="252.86" y1="73.60" x2="252.86" y2="72.40" stroke="#444" stroke-width="0.5" />
<line x1="252.86" y1="42.20" x2="252.86" y2="43.40" stroke="#444" stroke-width="0.5" />
<line x1="256.95" y1="73.60" x2="256.95" y2="72.90" stroke="#444" stroke-width="0.5" />
<line x1="256.95" y1="42.20" x2="256.95" y2="42.90" stroke="#444" stroke-width="0.5" />
<line x1="261.04" y1="73.60" x2="261.04" y2="72.40" stroke="#444" stroke-width="0.5" />
<line x1="261.04" y1="42.20" x2="261.04" y2="43.40" stroke="#444" stroke-width="0.5" />
<line x1="265.13" y1="73.60" x2="265.13" y2="72.90" stroke="#444" stroke-width="0.5" />
<line x1="265.13" y1="42.20" x2="265.13" y2="42.90" stroke="#444" stroke-width="0.5" />
<line x1="269.22" y1="73.60" x2="269.22" y2="72.40" stroke="#444" stroke-width="0.5" />
<line x1="269.22" y1="42.20" x2="269.22" y2="43.40" stroke="#444" stroke-width="0.5" />
<line x1="273.31" y1="73.60" x2="273.31" y2="72.90" stroke="#444" stroke-width="0.5" />
<line x1="273.31" y1="42.20" x2="273.31" y2="42.90" stroke="#444" stroke-width="0.5" />
<line x1="277.40" y1="73.60" x2="277.40" y2="72.40" stroke="#444" stroke-width="0.5" />
<line x1="277.40" y1="42.20" x2="277.40" y2="43.40" stroke="#444" stroke-width="0.5" />
<line x1="281.49" y1="73.60" x2="281.49" y2="72.90" stroke="#444" stroke-width="0.5" />
<line x1="281.49" y1="42.20" x2="281.49" y2="42.90" stroke="#444" stroke-width="0.5" />
<line x1="285.58" y1="73.60" x2="285.58" y2="72.40" stroke="#444" stroke-width="0.5" />
<line x1="285.58" y1="42.20" x2="285.58" y2="43.40" stroke="#444" stroke-width="0.5" />
<line x1="232.30" y1="71.80" x2="233.00" y2="71.80" stroke="#444" stroke-width="0.4" />
<line x1="289.90" y1="71.80" x2="289.20" y2="71.80" stroke="#444" stroke-width="0.4" />
<line x1="232.30" y1="69.26" x2="233.00" y2="69.26" stroke="#444" stroke-width="0.4" />
<line x1="289.90" y1="69.26" x2="289.20" y2="69.26" stroke="#444" stroke-width="0.4" />
<line x1="232.30" y1="66.72" x2="233.00" y2="66.72" stroke="#444" stroke-width="0.4" />
<line x1="289.90" y1="66.72" x2="289.20" y2="66.72" stroke="#444" stroke-width="0.4" />
<line x1="232.30" y1="64.18" x2="233.00" y2="64.18" stroke="#444" stroke-width="0.4" />
<line x1="289.90" y1="64.18" x2="289.20" y2="64.18" stroke="#444" stroke-width="0.4" />
<line x1="232.30" y1="61.64" x2="233.00" y2="61.64" stroke="#444" stroke-width="0.4" />
<line x1="289.90" y1="61.64" x2="289.20" y2="61.64" stroke="#444" stroke-width="0.4" />
<line x1="232.30" y1="59.10" x2="233.00" y2="59.10" stroke="#444" stroke-width="0.4" />
<line x1="289.90" y1="59.10" x2="289.20" y2="59.10" stroke="#444" stroke-width="0.4" />
<line x1="232.30" y1="56.56" x2="233.00" y2="56.56" stroke="#444" stroke-width="0.4" />
<line x1="289.90" y1="56.56" x2="289.20" y2="56.56" stroke="#444" stroke-width="0.4" />
<line x1="232.30" y1="54.02" x2="233.00" y2="54.02" stroke="#444" stroke-width="0.4" />
<line x1="289.90" y1="54.02" x2="289.20" y2="54.02" stroke="#444" stroke-width="0.4" />
<line x1="232.30" y1="51.48" x2="233.00" y2="51.48" stroke="#444" stroke-width="0.4" />
<line x1="289.90" y1="51.48" x2="289.20" y2="51.48" stroke="#444" stroke-width="0.4" />
<line x1="232.30" y1="48.94" x2="233.00" y2="48.94" stroke="#444" stroke-width="0.4" />
<line x1="289.90" y1="48.94" x2="289.20" y2="48.94" stroke="#444" stroke-width="0.4" />
<line x1="232.30" y1="46.40" x2="233.00" y2="46.40" stroke="#444" stroke-width="0.4" />
<line x1="289.90" y1="46.40" x2="289.20" y2="46.40" stroke="#444" stroke-width="0.4" />
<rect x="232.30" y="73.60" width="57.60" height="31.50" fill="none" stroke="#444" stroke-width="0.7" />
<text transform="translate(231.40,79.60) scale(1,1.0)" x="0" y="0" font-size="4.9" font-weight="bold" fill="#111" stroke="#111" stroke-width="0.2" text-anchor="end" font-family="Liberation Sans"  style="">1.0</text>
<line x1="232.30" y1="77.80" x2="233.50" y2="77.80" stroke="#444" stroke-width="0.5" />
<line x1="289.90" y1="77.80" x2="288.70" y2="77.80" stroke="#444" stroke-width="0.5" />
<text transform="translate(231.40,92.35) scale(1,1.0)" x="0" y="0" font-size="4.9" font-weight="bold" fill="#111" stroke="#111" stroke-width="0.2" text-anchor="end" font-family="Liberation Sans"  style="">0.5</text>
<line x1="232.30" y1="90.55" x2="233.50" y2="90.55" stroke="#444" stroke-width="0.5" />
<line x1="289.90" y1="90.55" x2="288.70" y2="90.55" stroke="#444" stroke-width="0.5" />
<text transform="translate(231.40,105.10) scale(1,1.0)" x="0" y="0" font-size="4.9" font-weight="bold" fill="#111" stroke="#111" stroke-width="0.2" text-anchor="end" font-family="Liberation Sans"  style="">0.0</text>
<line x1="232.30" y1="103.30" x2="233.50" y2="103.30" stroke="#444" stroke-width="0.5" />
<line x1="289.90" y1="103.30" x2="288.70" y2="103.30" stroke="#444" stroke-width="0.5" />
<line x1="236.50" y1="105.10" x2="236.50" y2="103.90" stroke="#444" stroke-width="0.5" />
<line x1="236.50" y1="73.60" x2="236.50" y2="74.80" stroke="#444" stroke-width="0.5" />
<line x1="240.59" y1="105.10" x2="240.59" y2="104.40" stroke="#444" stroke-width="0.5" />
<line x1="240.59" y1="73.60" x2="240.59" y2="74.30" stroke="#444" stroke-width="0.5" />
<line x1="244.68" y1="105.10" x2="244.68" y2="103.90" stroke="#444" stroke-width="0.5" />
<line x1="244.68" y1="73.60" x2="244.68" y2="74.80" stroke="#444" stroke-width="0.5" />
<line x1="248.77" y1="105.10" x2="248.77" y2="104.40" stroke="#444" stroke-width="0.5" />
<line x1="248.77" y1="73.60" x2="248.77" y2="74.30" stroke="#444" stroke-width="0.5" />
<line x1="252.86" y1="105.10" x2="252.86" y2="103.90" stroke="#444" stroke-width="0.5" />
<line x1="252.86" y1="73.60" x2="252.86" y2="74.80" stroke="#444" stroke-width="0.5" />
<line x1="256.95" y1="105.10" x2="256.95" y2="104.40" stroke="#444" stroke-width="0.5" />
<line x1="256.95" y1="73.60" x2="256.95" y2="74.30" stroke="#444" stroke-width="0.5" />
<line x1="261.04" y1="105.10" x2="261.04" y2="103.90" stroke="#444" stroke-width="0.5" />
<line x1="261.04" y1="73.60" x2="261.04" y2="74.80" stroke="#444" stroke-width="0.5" />
<line x1="265.13" y1="105.10" x2="265.13" y2="104.40" stroke="#444" stroke-width="0.5" />
<line x1="265.13" y1="73.60" x2="265.13" y2="74.30" stroke="#444" stroke-width="0.5" />
<line x1="269.22" y1="105.10" x2="269.22" y2="103.90" stroke="#444" stroke-width="0.5" />
<line x1="269.22" y1="73.60" x2="269.22" y2="74.80" stroke="#444" stroke-width="0.5" />
<line x1="273.31" y1="105.10" x2="273.31" y2="104.40" stroke="#444" stroke-width="0.5" />
<line x1="273.31" y1="73.60" x2="273.31" y2="74.30" stroke="#444" stroke-width="0.5" />
<line x1="277.40" y1="105.10" x2="277.40" y2="103.90" stroke="#444" stroke-width="0.5" />
<line x1="277.40" y1="73.60" x2="277.40" y2="74.80" stroke="#444" stroke-width="0.5" />
<line x1="281.49" y1="105.10" x2="281.49" y2="104.40" stroke="#444" stroke-width="0.5" />
<line x1="281.49" y1="73.60" x2="281.49" y2="74.30" stroke="#444" stroke-width="0.5" />
<line x1="285.58" y1="105.10" x2="285.58" y2="103.90" stroke="#444" stroke-width="0.5" />
<line x1="285.58" y1="73.60" x2="285.58" y2="74.80" stroke="#444" stroke-width="0.5" />
<line x1="232.30" y1="103.30" x2="233.00" y2="103.30" stroke="#444" stroke-width="0.4" />
<line x1="289.90" y1="103.30" x2="289.20" y2="103.30" stroke="#444" stroke-width="0.4" />
<line x1="232.30" y1="100.75" x2="233.00" y2="100.75" stroke="#444" stroke-width="0.4" />
<line x1="289.90" y1="100.75" x2="289.20" y2="100.75" stroke="#444" stroke-width="0.4" />
<line x1="232.30" y1="98.20" x2="233.00" y2="98.20" stroke="#444" stroke-width="0.4" />
<line x1="289.90" y1="98.20" x2="289.20" y2="98.20" stroke="#444" stroke-width="0.4" />
<line x1="232.30" y1="95.65" x2="233.00" y2="95.65" stroke="#444" stroke-width="0.4" />
<line x1="289.90" y1="95.65" x2="289.20" y2="95.65" stroke="#444" stroke-width="0.4" />
<line x1="232.30" y1="93.10" x2="233.00" y2="93.10" stroke="#444" stroke-width="0.4" />
<line x1="289.90" y1="93.10" x2="289.20" y2="93.10" stroke="#444" stroke-width="0.4" />
<line x1="232.30" y1="90.55" x2="233.00" y2="90.55" stroke="#444" stroke-width="0.4" />
<line x1="289.90" y1="90.55" x2="289.20" y2="90.55" stroke="#444" stroke-width="0.4" />
<line x1="232.30" y1="88.00" x2="233.00" y2="88.00" stroke="#444" stroke-width="0.4" />
<line x1="289.90" y1="88.00" x2="289.20" y2="88.00" stroke="#444" stroke-width="0.4" />
<line x1="232.30" y1="85.45" x2="233.00" y2="85.45" stroke="#444" stroke-width="0.4" />
<line x1="289.90" y1="85.45" x2="289.20" y2="85.45" stroke="#444" stroke-width="0.4" />
<line x1="232.30" y1="82.90" x2="233.00" y2="82.90" stroke="#444" stroke-width="0.4" />
<line x1="289.90" y1="82.90" x2="289.20" y2="82.90" stroke="#444" stroke-width="0.4" />
<line x1="232.30" y1="80.35" x2="233.00" y2="80.35" stroke="#444" stroke-width="0.4" />
<line x1="289.90" y1="80.35" x2="289.20" y2="80.35" stroke="#444" stroke-width="0.4" />
<line x1="232.30" y1="77.80" x2="233.00" y2="77.80" stroke="#444" stroke-width="0.4" />
<line x1="289.90" y1="77.80" x2="289.20" y2="77.80" stroke="#444" stroke-width="0.4" />
<text transform="translate(236.50,110.40) scale(1,1.0)" x="0" y="0" font-size="4.6" font-weight="bold" fill="#111" stroke="#111" stroke-width="0.2" text-anchor="middle" font-family="Liberation Sans"  style="">0</text>
<text transform="translate(252.86,110.40) scale(1,1.0)" x="0" y="0" font-size="4.6" font-weight="bold" fill="#111" stroke="#111" stroke-width="0.2" text-anchor="middle" font-family="Liberation Sans"  style="">20</text>
<text transform="translate(269.22,110.40) scale(1,1.0)" x="0" y="0" font-size="4.6" font-weight="bold" fill="#111" stroke="#111" stroke-width="0.2" text-anchor="middle" font-family="Liberation Sans"  style="">40</text>
<text transform="translate(285.58,110.40) scale(1,1.0)" x="0" y="0" font-size="4.6" font-weight="bold" fill="#111" stroke="#111" stroke-width="0.2" text-anchor="middle" font-family="Liberation Sans"  style="">60</text>
<polyline points="171.40,12.34 172.05,27.29 172.70,33.18 173.34,36.48 173.99,37.93 174.64,38.48 175.29,38.92 175.94,38.58 176.58,39.04 177.23,38.69 177.88,39.02 178.53,39.01 179.18,38.70 179.82,38.34 180.47,38.98 181.12,38.89 181.77,38.52 182.42,38.23 183.06,38.57 183.71,38.73 184.36,38.20 185.01,39.05 185.66,38.31 186.30,38.83 186.95,38.96 187.60,38.98 188.25,38.81 188.90,38.35 189.54,38.93 190.19,38.56 190.84,38.51 191.49,38.75 192.14,38.59 192.78,39.03 193.43,39.04 194.08,38.90 194.73,38.47 195.38,38.70 196.02,38.80 196.67,38.56 197.32,38.68 197.97,38.82 198.62,38.37 199.26,38.46 199.91,38.87 200.56,38.57 201.21,38.61 201.86,38.30 202.50,38.43 203.15,38.83 203.80,38.20 204.45,38.98 205.10,38.71 205.74,38.40 206.39,38.95 207.04,38.65 207.69,39.05 208.34,38.48 208.98,38.40 209.63,38.57 210.28,38.30 210.93,38.80 211.58,38.46 212.22,38.55 212.87,38.56 213.52,38.68 214.17,38.33 214.82,38.23 215.46,38.66 216.11,38.49 216.76,39.03 217.41,38.45 218.06,38.50" fill="none" stroke="#2a3cb8" stroke-width="1.2" stroke-linejoin="round"/>
<text transform="translate(222.00,19.30) scale(1,1.0)" x="0" y="0" font-size="7.7" font-weight="bold" fill="#000" stroke="#000" stroke-width="0.2" text-anchor="end" font-family="Liberation Sans"  style="">N=5</text>
<polyline points="171.40,45.95 172.05,51.04 172.70,55.31 173.34,58.11 173.99,60.07 174.64,62.36 175.29,63.26 175.94,64.53 176.58,65.34 177.23,65.97 177.88,65.77 178.53,66.70 179.18,66.85 179.82,66.92 180.47,66.64 181.12,67.48 181.77,67.23 182.42,67.21 183.06,66.96 183.71,67.06 184.36,67.05 185.01,67.61 185.66,67.50 186.30,67.57 186.95,67.10 187.60,67.04 188.25,67.78 188.90,67.76 189.54,67.72 190.19,67.72 190.84,67.49 191.49,67.40 192.14,67.69 192.78,67.93 193.43,67.55 194.08,67.60 194.73,67.42 195.38,67.07 196.02,67.31 196.67,67.47 197.32,67.37 197.97,67.32 198.62,67.89 199.26,67.12 199.91,67.23 200.56,67.14 201.21,67.21 201.86,67.58 202.50,67.57 203.15,67.84 203.80,67.36 204.45,67.88 205.10,67.88 205.74,67.75 206.39,67.79 207.04,67.63 207.69,67.89 208.34,67.94 208.98,67.80 209.63,67.85 210.28,67.61 210.93,67.92 211.58,67.14 212.22,67.38 212.87,67.80 213.52,67.71 214.17,67.62 214.82,67.61 215.46,67.83 216.11,67.16 216.76,67.03 217.41,67.51 218.06,67.50" fill="none" stroke="#e02020" stroke-width="1.2" stroke-linejoin="round"/>
<text transform="translate(222.00,50.50) scale(1,1.0)" x="0" y="0" font-size="7.7" font-weight="bold" fill="#000" stroke="#000" stroke-width="0.2" text-anchor="end" font-family="Liberation Sans"  style="">N=10</text>
<polyline points="171.40,78.18 172.05,80.11 172.70,81.59 173.34,83.15 173.99,83.94 174.64,85.70 175.29,86.84 175.94,86.87 176.58,88.03 177.23,89.07 177.88,89.30 178.53,90.31 179.18,90.31 179.82,90.31 180.47,90.77 181.12,91.25 181.77,91.93 182.42,92.08 183.06,92.48 183.71,92.12 184.36,92.51 185.01,92.44 185.66,92.99 186.30,93.21 186.95,92.77 187.60,92.71 188.25,92.92 188.90,93.04 189.54,93.10 190.19,93.23 190.84,93.76 191.49,93.55 192.14,93.74 192.78,94.08 193.43,94.12 194.08,93.93 194.73,93.98 195.38,93.61 196.02,93.40 196.67,93.89 197.32,93.47 197.97,93.44 198.62,93.50 199.26,94.06 199.91,94.21 200.56,94.22 201.21,94.27 201.86,94.27 202.50,93.90 203.15,93.67 203.80,93.74 204.45,94.08 205.10,93.93 205.74,93.81 206.39,94.48 207.04,93.96 207.69,93.75 208.34,93.87 208.98,93.91 209.63,94.17 210.28,94.46 210.93,93.91 211.58,94.34 212.22,93.92 212.87,93.77 213.52,94.31 214.17,94.31 214.82,93.82 215.46,94.03 216.11,94.55 216.76,94.59" fill="none" stroke="#10a040" stroke-width="1.2" stroke-linejoin="round"/>
<text transform="translate(222.00,81.90) scale(1,1.0)" x="0" y="0" font-size="7.7" font-weight="bold" fill="#000" stroke="#000" stroke-width="0.2" text-anchor="end" font-family="Liberation Sans"  style="">N=20</text>
<polyline points="236.50,15.01 237.15,16.07 237.81,17.75 238.46,19.81 239.12,20.53 239.77,21.61 240.43,23.03 241.08,24.34 241.74,25.10 242.39,26.34 243.04,27.24 243.70,27.09 244.35,28.05 245.01,28.77 245.66,28.96 246.32,29.93 246.97,30.00 247.62,30.47 248.28,31.43 248.93,31.76 249.59,32.05 250.24,32.41 250.90,32.37 251.55,32.93 252.21,33.02 252.86,33.50 253.51,33.00 254.17,33.69 254.82,33.76 255.48,33.80 256.13,33.66 256.79,34.23 257.44,33.90 258.10,34.39 258.75,34.47 259.40,34.57 260.06,35.12 260.71,34.82 261.37,35.13 262.02,35.36 262.68,34.70 263.33,35.33 263.98,35.11 264.64,34.94 265.29,35.14 265.95,35.39 266.60,35.26 267.26,35.26 267.91,35.09 268.57,35.74 269.22,35.36 269.87,35.67 270.53,35.67 271.18,35.25 271.84,35.52 272.49,35.49 273.15,35.33 273.80,35.21 274.46,35.66 275.11,35.52 275.76,35.63 276.42,35.64 277.07,35.50 277.73,35.73 278.38,35.67 279.04,35.73 279.69,35.32 280.34,35.55 281.00,35.40 281.65,35.35 282.31,35.98 282.96,35.72 283.62,35.38" fill="none" stroke="#d03c9c" stroke-width="1.2" stroke-linejoin="round"/>
<text transform="translate(287.30,19.30) scale(1,1.0)" x="0" y="0" font-size="7.7" font-weight="bold" fill="#000" stroke="#000" stroke-width="0.2" text-anchor="end" font-family="Liberation Sans"  style="">N=30</text>
<polyline points="236.50,45.58 237.15,47.58 237.81,48.82 238.46,49.64 239.12,50.99 239.77,51.75 240.43,52.73 241.08,52.94 241.74,53.51 242.39,54.03 243.04,55.27 243.70,55.26 244.35,55.78 245.01,56.67 245.66,56.38 246.32,56.65 246.97,57.65 247.62,57.26 248.28,58.03 248.93,58.19 249.59,57.94 250.24,58.28 250.90,59.08 251.55,58.99 252.21,59.06 252.86,59.36 253.51,59.62 254.17,59.62 254.82,59.35 255.48,60.09 256.13,59.69 256.79,59.87 257.44,60.33 258.10,60.11 258.75,59.91 259.40,60.07 260.06,60.53 260.71,59.74 261.37,59.96 262.02,59.84 262.68,60.67 263.33,60.56 263.98,60.80 264.64,60.15 265.29,60.64 265.95,60.80 266.60,60.56 267.26,60.13 267.91,60.24 268.57,60.77 269.22,60.89 269.87,60.21 270.53,60.54 271.18,60.44 271.84,61.01 272.49,61.06 273.15,60.49 273.80,60.75 274.46,61.08 275.11,60.30 275.76,60.59 276.42,60.45 277.07,61.12 277.73,60.42 278.38,61.15 279.04,60.43 279.69,60.82 280.34,60.93 281.00,60.74 281.65,60.41 282.31,61.02 282.96,61.15 283.62,60.80" fill="none" stroke="#e4dc00" stroke-width="1.2" stroke-linejoin="round"/>
<text transform="translate(287.30,50.50) scale(1,1.0)" x="0" y="0" font-size="7.7" font-weight="bold" fill="#000" stroke="#000" stroke-width="0.2" text-anchor="end" font-family="Liberation Sans"  style="">N=40</text>
<polyline points="236.50,79.32 237.15,79.98 237.81,80.44 238.46,81.01 239.12,81.32 239.77,81.63 240.43,82.03 241.08,81.97 241.74,82.75 242.39,82.87 243.04,83.47 243.70,83.59 244.35,84.15 245.01,84.18 245.66,84.63 246.32,84.18 246.97,84.55 247.62,85.07 248.28,84.98 248.93,84.72 249.59,85.63 250.24,85.12 250.90,85.61 251.55,85.68 252.21,85.48 252.86,86.00 253.51,86.00 254.17,85.93 254.82,85.75 255.48,86.42 256.13,86.05 256.79,86.23 257.44,86.37 258.10,86.65 258.75,86.76 259.40,87.08 260.06,86.91 260.71,86.86 261.37,86.14 262.02,86.48 262.68,86.45 263.33,86.41 263.98,85.59 264.64,85.45 265.29,85.51 265.95,85.74 266.60,85.65 267.26,85.48 267.91,85.20 268.57,85.34 269.22,84.94 269.87,84.98 270.53,84.20 271.18,84.06 271.84,84.31 272.49,84.45 273.15,83.65" fill="none" stroke="#1ab0d4" stroke-width="1.2" stroke-linejoin="round"/>
<text transform="translate(287.30,81.90) scale(1,1.0)" x="0" y="0" font-size="7.7" font-weight="bold" fill="#000" stroke="#000" stroke-width="0.2" text-anchor="end" font-family="Liberation Sans"  style="">N=50</text>
<text transform="translate(300.60,12.90) scale(1,1.0)" x="0" y="0" font-size="14.5" font-weight="normal" fill="#000" stroke="#000" stroke-width="0.35" text-anchor="start" font-family="Liberation Sans"  style="">c</text>
<rect x="329.50" y="13.00" width="106.50" height="85.00" fill="none" stroke="#333" stroke-width="0.8" />
<text transform="translate(315.90,61.10) rotate(-90) scale(1,1.0)" x="0" y="0" font-size="10.0" font-weight="bold" fill="#000" stroke="#000" stroke-width="0.25" text-anchor="middle" font-family="Liberation Sans" >Current (µA)</text>
<text transform="translate(387.40,119.20) scale(1,1.0)" x="0" y="0" font-size="9.7" font-weight="bold" fill="#000" stroke="#000" stroke-width="0.25" text-anchor="middle" font-family="Liberation Sans"  style="">Time (s)</text>
<text transform="translate(333.00,22.50) scale(1,1.0)" x="0" y="0" font-size="8.2" font-weight="bold" fill="#000" stroke="#000" stroke-width="0.25" text-anchor="start" font-family="Liberation Sans"  style="">STP: 0.6 V, 1 Hz, 20%duty</text>
<text transform="translate(327.00,100.20) scale(1,1.0)" x="0" y="0" font-size="6.0" font-weight="bold" fill="#111" stroke="#111" stroke-width="0.25" text-anchor="end" font-family="Liberation Sans"  style="">0</text>
<line x1="329.50" y1="98.00" x2="331.30" y2="98.00" stroke="#333" stroke-width="0.6" />
<text transform="translate(327.00,79.40) scale(1,1.0)" x="0" y="0" font-size="6.0" font-weight="bold" fill="#111" stroke="#111" stroke-width="0.25" text-anchor="end" font-family="Liberation Sans"  style="">5</text>
<line x1="329.50" y1="77.20" x2="331.30" y2="77.20" stroke="#333" stroke-width="0.6" />
<text transform="translate(327.00,58.60) scale(1,1.0)" x="0" y="0" font-size="6.0" font-weight="bold" fill="#111" stroke="#111" stroke-width="0.25" text-anchor="end" font-family="Liberation Sans"  style="">10</text>
<line x1="329.50" y1="56.40" x2="331.30" y2="56.40" stroke="#333" stroke-width="0.6" />
<text transform="translate(327.00,37.80) scale(1,1.0)" x="0" y="0" font-size="6.0" font-weight="bold" fill="#111" stroke="#111" stroke-width="0.25" text-anchor="end" font-family="Liberation Sans"  style="">15</text>
<line x1="329.50" y1="35.60" x2="331.30" y2="35.60" stroke="#333" stroke-width="0.6" />
<text transform="translate(327.00,17.00) scale(1,1.0)" x="0" y="0" font-size="6.0" font-weight="bold" fill="#111" stroke="#111" stroke-width="0.25" text-anchor="end" font-family="Liberation Sans"  style="">20</text>
<line x1="329.50" y1="14.80" x2="331.30" y2="14.80" stroke="#333" stroke-width="0.6" />
<line x1="329.50" y1="98.00" x2="330.50" y2="98.00" stroke="#333" stroke-width="0.4" />
<line x1="329.50" y1="93.84" x2="330.50" y2="93.84" stroke="#333" stroke-width="0.4" />
<line x1="329.50" y1="89.68" x2="330.50" y2="89.68" stroke="#333" stroke-width="0.4" />
<line x1="329.50" y1="85.52" x2="330.50" y2="85.52" stroke="#333" stroke-width="0.4" />
<line x1="329.50" y1="81.36" x2="330.50" y2="81.36" stroke="#333" stroke-width="0.4" />
<line x1="329.50" y1="77.20" x2="330.50" y2="77.20" stroke="#333" stroke-width="0.4" />
<line x1="329.50" y1="73.04" x2="330.50" y2="73.04" stroke="#333" stroke-width="0.4" />
<line x1="329.50" y1="68.88" x2="330.50" y2="68.88" stroke="#333" stroke-width="0.4" />
<line x1="329.50" y1="64.72" x2="330.50" y2="64.72" stroke="#333" stroke-width="0.4" />
<line x1="329.50" y1="60.56" x2="330.50" y2="60.56" stroke="#333" stroke-width="0.4" />
<line x1="329.50" y1="56.40" x2="330.50" y2="56.40" stroke="#333" stroke-width="0.4" />
<line x1="329.50" y1="52.24" x2="330.50" y2="52.24" stroke="#333" stroke-width="0.4" />
<line x1="329.50" y1="48.08" x2="330.50" y2="48.08" stroke="#333" stroke-width="0.4" />
<line x1="329.50" y1="43.92" x2="330.50" y2="43.92" stroke="#333" stroke-width="0.4" />
<line x1="329.50" y1="39.76" x2="330.50" y2="39.76" stroke="#333" stroke-width="0.4" />
<line x1="329.50" y1="35.60" x2="330.50" y2="35.60" stroke="#333" stroke-width="0.4" />
<line x1="329.50" y1="31.44" x2="330.50" y2="31.44" stroke="#333" stroke-width="0.4" />
<line x1="329.50" y1="27.28" x2="330.50" y2="27.28" stroke="#333" stroke-width="0.4" />
<line x1="329.50" y1="23.12" x2="330.50" y2="23.12" stroke="#333" stroke-width="0.4" />
<line x1="329.50" y1="18.96" x2="330.50" y2="18.96" stroke="#333" stroke-width="0.4" />
<line x1="329.50" y1="14.80" x2="330.50" y2="14.80" stroke="#333" stroke-width="0.4" />
<text transform="translate(330.20,106.90) scale(1,1.0)" x="0" y="0" font-size="6.0" font-weight="bold" fill="#111" stroke="#111" stroke-width="0.25" text-anchor="middle" font-family="Liberation Sans"  style="">0</text>
<text transform="translate(356.65,106.90) scale(1,1.0)" x="0" y="0" font-size="6.0" font-weight="bold" fill="#111" stroke="#111" stroke-width="0.25" text-anchor="middle" font-family="Liberation Sans"  style="">5</text>
<text transform="translate(383.10,106.90) scale(1,1.0)" x="0" y="0" font-size="6.0" font-weight="bold" fill="#111" stroke="#111" stroke-width="0.25" text-anchor="middle" font-family="Liberation Sans"  style="">10</text>
<text transform="translate(409.55,106.90) scale(1,1.0)" x="0" y="0" font-size="6.0" font-weight="bold" fill="#111" stroke="#111" stroke-width="0.25" text-anchor="middle" font-family="Liberation Sans"  style="">15</text>
<text transform="translate(436.00,106.90) scale(1,1.0)" x="0" y="0" font-size="6.0" font-weight="bold" fill="#111" stroke="#111" stroke-width="0.25" text-anchor="middle" font-family="Liberation Sans"  style="">20</text>
<line x1="330.20" y1="98.00" x2="330.20" y2="96.20" stroke="#333" stroke-width="0.5" />
<line x1="330.20" y1="13.00" x2="330.20" y2="14.80" stroke="#333" stroke-width="0.5" />
<line x1="335.49" y1="98.00" x2="335.49" y2="97.00" stroke="#333" stroke-width="0.5" />
<line x1="335.49" y1="13.00" x2="335.49" y2="14.00" stroke="#333" stroke-width="0.5" />
<line x1="340.78" y1="98.00" x2="340.78" y2="97.00" stroke="#333" stroke-width="0.5" />
<line x1="340.78" y1="13.00" x2="340.78" y2="14.00" stroke="#333" stroke-width="0.5" />
<line x1="346.07" y1="98.00" x2="346.07" y2="97.00" stroke="#333" stroke-width="0.5" />
<line x1="346.07" y1="13.00" x2="346.07" y2="14.00" stroke="#333" stroke-width="0.5" />
<line x1="351.36" y1="98.00" x2="351.36" y2="97.00" stroke="#333" stroke-width="0.5" />
<line x1="351.36" y1="13.00" x2="351.36" y2="14.00" stroke="#333" stroke-width="0.5" />
<line x1="356.65" y1="98.00" x2="356.65" y2="96.20" stroke="#333" stroke-width="0.5" />
<line x1="356.65" y1="13.00" x2="356.65" y2="14.80" stroke="#333" stroke-width="0.5" />
<line x1="361.94" y1="98.00" x2="361.94" y2="97.00" stroke="#333" stroke-width="0.5" />
<line x1="361.94" y1="13.00" x2="361.94" y2="14.00" stroke="#333" stroke-width="0.5" />
<line x1="367.23" y1="98.00" x2="367.23" y2="97.00" stroke="#333" stroke-width="0.5" />
<line x1="367.23" y1="13.00" x2="367.23" y2="14.00" stroke="#333" stroke-width="0.5" />
<line x1="372.52" y1="98.00" x2="372.52" y2="97.00" stroke="#333" stroke-width="0.5" />
<line x1="372.52" y1="13.00" x2="372.52" y2="14.00" stroke="#333" stroke-width="0.5" />
<line x1="377.81" y1="98.00" x2="377.81" y2="97.00" stroke="#333" stroke-width="0.5" />
<line x1="377.81" y1="13.00" x2="377.81" y2="14.00" stroke="#333" stroke-width="0.5" />
<line x1="383.10" y1="98.00" x2="383.10" y2="96.20" stroke="#333" stroke-width="0.5" />
<line x1="383.10" y1="13.00" x2="383.10" y2="14.80" stroke="#333" stroke-width="0.5" />
<line x1="388.39" y1="98.00" x2="388.39" y2="97.00" stroke="#333" stroke-width="0.5" />
<line x1="388.39" y1="13.00" x2="388.39" y2="14.00" stroke="#333" stroke-width="0.5" />
<line x1="393.68" y1="98.00" x2="393.68" y2="97.00" stroke="#333" stroke-width="0.5" />
<line x1="393.68" y1="13.00" x2="393.68" y2="14.00" stroke="#333" stroke-width="0.5" />
<line x1="398.97" y1="98.00" x2="398.97" y2="97.00" stroke="#333" stroke-width="0.5" />
<line x1="398.97" y1="13.00" x2="398.97" y2="14.00" stroke="#333" stroke-width="0.5" />
<line x1="404.26" y1="98.00" x2="404.26" y2="97.00" stroke="#333" stroke-width="0.5" />
<line x1="404.26" y1="13.00" x2="404.26" y2="14.00" stroke="#333" stroke-width="0.5" />
<line x1="409.55" y1="98.00" x2="409.55" y2="96.20" stroke="#333" stroke-width="0.5" />
<line x1="409.55" y1="13.00" x2="409.55" y2="14.80" stroke="#333" stroke-width="0.5" />
<line x1="414.84" y1="98.00" x2="414.84" y2="97.00" stroke="#333" stroke-width="0.5" />
<line x1="414.84" y1="13.00" x2="414.84" y2="14.00" stroke="#333" stroke-width="0.5" />
<line x1="420.13" y1="98.00" x2="420.13" y2="97.00" stroke="#333" stroke-width="0.5" />
<line x1="420.13" y1="13.00" x2="420.13" y2="14.00" stroke="#333" stroke-width="0.5" />
<line x1="425.42" y1="98.00" x2="425.42" y2="97.00" stroke="#333" stroke-width="0.5" />
<line x1="425.42" y1="13.00" x2="425.42" y2="14.00" stroke="#333" stroke-width="0.5" />
<line x1="430.71" y1="98.00" x2="430.71" y2="97.00" stroke="#333" stroke-width="0.5" />
<line x1="430.71" y1="13.00" x2="430.71" y2="14.00" stroke="#333" stroke-width="0.5" />
<line x1="436.00" y1="98.00" x2="436.00" y2="96.20" stroke="#333" stroke-width="0.5" />
<line x1="436.00" y1="13.00" x2="436.00" y2="14.80" stroke="#333" stroke-width="0.5" />
<polyline points="330.46,95.50 332.84,95.07 335.49,94.88 335.49,77.20 336.12,81.36 336.23,93.63 338.13,95.02 340.78,94.88 340.78,70.96 341.41,76.37 341.52,93.63 343.43,95.38 346.07,94.88 346.07,76.37 346.70,80.69 346.81,93.63 348.71,95.00 351.36,94.88 351.36,73.87 351.99,78.70 352.10,93.63 354.00,94.91 356.65,94.88 356.65,74.70 357.28,79.36 357.39,93.63 359.30,94.88 361.94,94.88 361.94,73.87 362.57,78.70 362.68,93.63 364.58,95.18 367.23,94.88 367.23,45.17 367.86,55.73 367.97,93.63 369.88,94.88 372.52,94.88 372.52,58.48 373.15,66.38 373.26,93.63 375.16,95.37 377.81,94.88 377.81,60.56 378.44,68.05 378.55,93.63 380.45,95.12 383.10,94.88 383.10,72.21 383.73,77.37 383.84,93.63 385.75,95.29 388.39,94.88 388.39,45.17 389.02,55.73 389.13,93.63 391.03,94.77 393.68,94.67 393.68,45.17 394.31,55.73 394.42,86.77 396.32,92.43 398.97,91.97 398.97,63.06 399.60,70.04 399.71,90.72 401.62,92.44 404.26,91.97 404.26,46.00 404.89,56.40 405.00,90.72 406.90,92.16 409.55,91.97 409.55,56.40 410.18,64.72 410.29,90.72 412.19,92.23 414.84,91.97 414.84,63.47 415.47,70.38 415.58,90.72 417.49,91.88 420.13,91.97 420.13,55.98 420.76,64.39 420.87,90.72 422.77,91.94 425.42,91.97 425.42,55.15 426.05,63.72 426.16,90.72 428.06,91.72 430.71,91.97 430.71,55.15 431.34,63.72 431.45,90.72 433.36,91.81 436.00,91.97 436.00,68.88 436.63,74.70 436.74,90.72 436.00,91.97" fill="none" stroke="#4f78c4" stroke-width="0.85" stroke-linejoin="miter"/>
<rect x="467.20" y="13.00" width="102.20" height="85.60" fill="none" stroke="#333" stroke-width="0.8" />
<text transform="translate(452.30,61.20) rotate(-90) scale(1,1.0)" x="0" y="0" font-size="10.0" font-weight="bold" fill="#000" stroke="#000" stroke-width="0.25" text-anchor="middle" font-family="Liberation Sans" >Current (µA)</text>
<text transform="translate(519.20,119.20) scale(1,1.0)" x="0" y="0" font-size="9.7" font-weight="bold" fill="#000" stroke="#000" stroke-width="0.25" text-anchor="middle" font-family="Liberation Sans"  style="">Time (s)</text>
<text transform="translate(469.00,22.20) scale(1,1.0)" x="0" y="0" font-size="8.3" font-weight="bold" fill="#000" stroke="#000" stroke-width="0.25" text-anchor="start" font-family="Liberation Sans"  style="">LTP: 0.6 V, 5 Hz, 80%duty</text>
<text transform="translate(465.00,100.80) scale(1,1.0)" x="0" y="0" font-size="6.0" font-weight="bold" fill="#111" stroke="#111" stroke-width="0.25" text-anchor="end" font-family="Liberation Sans"  style="">0</text>
<line x1="467.20" y1="98.60" x2="469.00" y2="98.60" stroke="#333" stroke-width="0.6" />
<text transform="translate(465.00,79.85) scale(1,1.0)" x="0" y="0" font-size="6.0" font-weight="bold" fill="#111" stroke="#111" stroke-width="0.25" text-anchor="end" font-family="Liberation Sans"  style="">10</text>
<line x1="467.20" y1="77.65" x2="469.00" y2="77.65" stroke="#333" stroke-width="0.6" />
<text transform="translate(465.00,58.90) scale(1,1.0)" x="0" y="0" font-size="6.0" font-weight="bold" fill="#111" stroke="#111" stroke-width="0.25" text-anchor="end" font-family="Liberation Sans"  style="">20</text>
<line x1="467.20" y1="56.70" x2="469.00" y2="56.70" stroke="#333" stroke-width="0.6" />
<text transform="translate(465.00,37.95) scale(1,1.0)" x="0" y="0" font-size="6.0" font-weight="bold" fill="#111" stroke="#111" stroke-width="0.25" text-anchor="end" font-family="Liberation Sans"  style="">30</text>
<line x1="467.20" y1="35.75" x2="469.00" y2="35.75" stroke="#333" stroke-width="0.6" />
<text transform="translate(465.00,17.00) scale(1,1.0)" x="0" y="0" font-size="6.0" font-weight="bold" fill="#111" stroke="#111" stroke-width="0.25" text-anchor="end" font-family="Liberation Sans"  style="">40</text>
<line x1="467.20" y1="14.80" x2="469.00" y2="14.80" stroke="#333" stroke-width="0.6" />
<line x1="467.20" y1="98.60" x2="468.20" y2="98.60" stroke="#333" stroke-width="0.4" />
<line x1="467.20" y1="94.41" x2="468.20" y2="94.41" stroke="#333" stroke-width="0.4" />
<line x1="467.20" y1="90.22" x2="468.20" y2="90.22" stroke="#333" stroke-width="0.4" />
<line x1="467.20" y1="86.03" x2="468.20" y2="86.03" stroke="#333" stroke-width="0.4" />
<line x1="467.20" y1="81.84" x2="468.20" y2="81.84" stroke="#333" stroke-width="0.4" />
<line x1="467.20" y1="77.65" x2="468.20" y2="77.65" stroke="#333" stroke-width="0.4" />
<line x1="467.20" y1="73.46" x2="468.20" y2="73.46" stroke="#333" stroke-width="0.4" />
<line x1="467.20" y1="69.27" x2="468.20" y2="69.27" stroke="#333" stroke-width="0.4" />
<line x1="467.20" y1="65.08" x2="468.20" y2="65.08" stroke="#333" stroke-width="0.4" />
<line x1="467.20" y1="60.89" x2="468.20" y2="60.89" stroke="#333" stroke-width="0.4" />
<line x1="467.20" y1="56.70" x2="468.20" y2="56.70" stroke="#333" stroke-width="0.4" />
<line x1="467.20" y1="52.51" x2="468.20" y2="52.51" stroke="#333" stroke-width="0.4" />
<line x1="467.20" y1="48.32" x2="468.20" y2="48.32" stroke="#333" stroke-width="0.4" />
<line x1="467.20" y1="44.13" x2="468.20" y2="44.13" stroke="#333" stroke-width="0.4" />
<line x1="467.20" y1="39.94" x2="468.20" y2="39.94" stroke="#333" stroke-width="0.4" />
<line x1="467.20" y1="35.75" x2="468.20" y2="35.75" stroke="#333" stroke-width="0.4" />
<line x1="467.20" y1="31.56" x2="468.20" y2="31.56" stroke="#333" stroke-width="0.4" />
<line x1="467.20" y1="27.37" x2="468.20" y2="27.37" stroke="#333" stroke-width="0.4" />
<line x1="467.20" y1="23.18" x2="468.20" y2="23.18" stroke="#333" stroke-width="0.4" />
<line x1="467.20" y1="18.99" x2="468.20" y2="18.99" stroke="#333" stroke-width="0.4" />
<line x1="467.20" y1="14.80" x2="468.20" y2="14.80" stroke="#333" stroke-width="0.4" />
<text transform="translate(467.80,106.40) scale(1,1.0)" x="0" y="0" font-size="6.0" font-weight="bold" fill="#111" stroke="#111" stroke-width="0.25" text-anchor="middle" font-family="Liberation Sans"  style="">0</text>
<text transform="translate(488.12,106.40) scale(1,1.0)" x="0" y="0" font-size="6.0" font-weight="bold" fill="#111" stroke="#111" stroke-width="0.25" text-anchor="middle" font-family="Liberation Sans"  style="">20</text>
<text transform="translate(508.44,106.40) scale(1,1.0)" x="0" y="0" font-size="6.0" font-weight="bold" fill="#111" stroke="#111" stroke-width="0.25" text-anchor="middle" font-family="Liberation Sans"  style="">40</text>
<text transform="translate(528.76,106.40) scale(1,1.0)" x="0" y="0" font-size="6.0" font-weight="bold" fill="#111" stroke="#111" stroke-width="0.25" text-anchor="middle" font-family="Liberation Sans"  style="">60</text>
<text transform="translate(549.08,106.40) scale(1,1.0)" x="0" y="0" font-size="6.0" font-weight="bold" fill="#111" stroke="#111" stroke-width="0.25" text-anchor="middle" font-family="Liberation Sans"  style="">80</text>
<text transform="translate(569.40,106.40) scale(1,1.0)" x="0" y="0" font-size="6.0" font-weight="bold" fill="#111" stroke="#111" stroke-width="0.25" text-anchor="middle" font-family="Liberation Sans"  style="">100</text>
<line x1="467.80" y1="98.60" x2="467.80" y2="96.80" stroke="#333" stroke-width="0.5" />
<line x1="467.80" y1="13.00" x2="467.80" y2="14.80" stroke="#333" stroke-width="0.5" />
<line x1="472.88" y1="98.60" x2="472.88" y2="97.60" stroke="#333" stroke-width="0.5" />
<line x1="472.88" y1="13.00" x2="472.88" y2="14.00" stroke="#333" stroke-width="0.5" />
<line x1="477.96" y1="98.60" x2="477.96" y2="97.60" stroke="#333" stroke-width="0.5" />
<line x1="477.96" y1="13.00" x2="477.96" y2="14.00" stroke="#333" stroke-width="0.5" />
<line x1="483.04" y1="98.60" x2="483.04" y2="97.60" stroke="#333" stroke-width="0.5" />
<line x1="483.04" y1="13.00" x2="483.04" y2="14.00" stroke="#333" stroke-width="0.5" />
<line x1="488.12" y1="98.60" x2="488.12" y2="96.80" stroke="#333" stroke-width="0.5" />
<line x1="488.12" y1="13.00" x2="488.12" y2="14.80" stroke="#333" stroke-width="0.5" />
<line x1="493.20" y1="98.60" x2="493.20" y2="97.60" stroke="#333" stroke-width="0.5" />
<line x1="493.20" y1="13.00" x2="493.20" y2="14.00" stroke="#333" stroke-width="0.5" />
<line x1="498.28" y1="98.60" x2="498.28" y2="97.60" stroke="#333" stroke-width="0.5" />
<line x1="498.28" y1="13.00" x2="498.28" y2="14.00" stroke="#333" stroke-width="0.5" />
<line x1="503.36" y1="98.60" x2="503.36" y2="97.60" stroke="#333" stroke-width="0.5" />
<line x1="503.36" y1="13.00" x2="503.36" y2="14.00" stroke="#333" stroke-width="0.5" />
<line x1="508.44" y1="98.60" x2="508.44" y2="96.80" stroke="#333" stroke-width="0.5" />
<line x1="508.44" y1="13.00" x2="508.44" y2="14.80" stroke="#333" stroke-width="0.5" />
<line x1="513.52" y1="98.60" x2="513.52" y2="97.60" stroke="#333" stroke-width="0.5" />
<line x1="513.52" y1="13.00" x2="513.52" y2="14.00" stroke="#333" stroke-width="0.5" />
<line x1="518.60" y1="98.60" x2="518.60" y2="97.60" stroke="#333" stroke-width="0.5" />
<line x1="518.60" y1="13.00" x2="518.60" y2="14.00" stroke="#333" stroke-width="0.5" />
<line x1="523.68" y1="98.60" x2="523.68" y2="97.60" stroke="#333" stroke-width="0.5" />
<line x1="523.68" y1="13.00" x2="523.68" y2="14.00" stroke="#333" stroke-width="0.5" />
<line x1="528.76" y1="98.60" x2="528.76" y2="96.80" stroke="#333" stroke-width="0.5" />
<line x1="528.76" y1="13.00" x2="528.76" y2="14.80" stroke="#333" stroke-width="0.5" />
<line x1="533.84" y1="98.60" x2="533.84" y2="97.60" stroke="#333" stroke-width="0.5" />
<line x1="533.84" y1="13.00" x2="533.84" y2="14.00" stroke="#333" stroke-width="0.5" />
<line x1="538.92" y1="98.60" x2="538.92" y2="97.60" stroke="#333" stroke-width="0.5" />
<line x1="538.92" y1="13.00" x2="538.92" y2="14.00" stroke="#333" stroke-width="0.5" />
<line x1="544.00" y1="98.60" x2="544.00" y2="97.60" stroke="#333" stroke-width="0.5" />
<line x1="544.00" y1="13.00" x2="544.00" y2="14.00" stroke="#333" stroke-width="0.5" />
<line x1="549.08" y1="98.60" x2="549.08" y2="96.80" stroke="#333" stroke-width="0.5" />
<line x1="549.08" y1="13.00" x2="549.08" y2="14.80" stroke="#333" stroke-width="0.5" />
<line x1="554.16" y1="98.60" x2="554.16" y2="97.60" stroke="#333" stroke-width="0.5" />
<line x1="554.16" y1="13.00" x2="554.16" y2="14.00" stroke="#333" stroke-width="0.5" />
<line x1="559.24" y1="98.60" x2="559.24" y2="97.60" stroke="#333" stroke-width="0.5" />
<line x1="559.24" y1="13.00" x2="559.24" y2="14.00" stroke="#333" stroke-width="0.5" />
<line x1="564.32" y1="98.60" x2="564.32" y2="97.60" stroke="#333" stroke-width="0.5" />
<line x1="564.32" y1="13.00" x2="564.32" y2="14.00" stroke="#333" stroke-width="0.5" />
<line x1="569.40" y1="98.60" x2="569.40" y2="96.80" stroke="#333" stroke-width="0.5" />
<line x1="569.40" y1="13.00" x2="569.40" y2="14.80" stroke="#333" stroke-width="0.5" />
<polygon points="467.90,98.20 474.80,96.90 480.70,93.90 484.70,91.00 487.60,84.00 488.60,75.20 490.60,67.30 492.60,65.40 501.40,66.30 503.40,61.40 508.30,56.50 514.20,51.60 516.20,47.60 518.00,48.50 522.00,48.60 526.00,43.70 532.00,39.80 539.80,37.80 569.20,37.80 569.20,77.20 539.80,77.20 532.00,78.10 524.00,80.10 516.20,81.10 510.30,85.00 500.40,88.00 490.60,89.00 484.70,93.90 474.80,97.40 467.90,98.20" fill="#446db8" stroke="none" stroke-width="0" />
<text transform="translate(1.90,139.30) scale(1,1.0)" x="0" y="0" font-size="14.3" font-weight="normal" fill="#000" stroke="#000" stroke-width="0.35" text-anchor="start" font-family="Liberation Sans"  style="">d</text>
<text transform="translate(59.70,155.80) scale(1,1.0)" x="0" y="0" font-size="8.15" font-weight="bold" fill="#000" stroke="#000" stroke-width="0.25" text-anchor="start" font-family="Liberation Sans"  style="">Electric stimuli</text>
<defs><linearGradient id="gSlate" x1="0" y1="0" x2="1" y2="0"><stop offset="0" stop-color="#56697a"/><stop offset="1" stop-color="#d0dae2"/></linearGradient><linearGradient id="gDark" x1="0" y1="0" x2="1" y2="0"><stop offset="0" stop-color="#1e1e1e"/><stop offset="1" stop-color="#3a3a3a"/></linearGradient><linearGradient id="gRelax" x1="0" y1="0" x2="1" y2="0"><stop offset="0" stop-color="#e6e6e6"/><stop offset="0.5" stop-color="#8a8a8a"/><stop offset="1" stop-color="#1c1c1c"/></linearGradient><linearGradient id="gMw" x1="0" y1="0" x2="1" y2="0"><stop offset="0" stop-color="#d0d0fa"/><stop offset="0.5" stop-color="#8a80ee"/><stop offset="1" stop-color="#3a1ed0"/></linearGradient><linearGradient id="gPlate" x1="0" y1="0" x2="0" y2="1"><stop offset="0" stop-color="#f0f0f0"/><stop offset="1" stop-color="#a8a8a8"/></linearGradient></defs>
<defs><linearGradient id="gTopG" x1="0" y1="0" x2="0" y2="1"><stop offset="0" stop-color="#dcdcdc"/><stop offset="1" stop-color="#aeaeae"/></linearGradient><linearGradient id="gMidG" x1="0" y1="0" x2="0" y2="1"><stop offset="0" stop-color="#c8c8c8"/><stop offset="1" stop-color="#a8a8a8"/></linearGradient><linearGradient id="gBotTop" x1="0" y1="0" x2="1" y2="0"><stop offset="0" stop-color="#4c4cac"/><stop offset="0.2" stop-color="#6e6ed0"/><stop offset="1" stop-color="#7a7ad8"/></linearGradient></defs>
<polygon points="20.90,169.00 34.20,160.60 34.20,173.50 20.90,173.50" fill="url(#gDark)" stroke="none" stroke-width="0" />
<polygon points="20.90,173.50 34.20,173.50 34.20,188.80 20.90,189.30" fill="#dedede" stroke="none" stroke-width="0" />
<polygon points="34.20,160.60 94.10,164.20 94.10,167.60 34.20,167.60" fill="url(#gTopG)" stroke="none" stroke-width="0" />
<polygon points="34.20,167.60 94.10,167.60 94.10,169.80 34.20,173.50" fill="url(#gSlate)" stroke="none" stroke-width="0" />
<polygon points="34.20,173.50 94.10,169.80 94.10,188.80 34.20,188.80" fill="#e6edf2" stroke="none" stroke-width="0" />
<polygon points="20.90,189.30 34.20,188.80 34.20,194.90 20.90,194.20" fill="#1e1e1e" stroke="none" stroke-width="0" />
<polygon points="34.20,188.80 94.10,188.80 94.10,194.90 34.20,194.90" fill="url(#gMidG)" stroke="none" stroke-width="0" />
<polygon points="20.90,194.20 34.20,194.90 34.20,214.50 20.90,214.70" fill="#e4e4e4" stroke="none" stroke-width="0" />
<polygon points="34.20,194.90 94.10,194.90 94.10,215.60 34.20,214.20" fill="#e7e5f7" stroke="none" stroke-width="0" />
<polygon points="20.90,213.70 94.10,215.50 94.10,218.90 34.20,221.50" fill="url(#gBotTop)" stroke="none" stroke-width="0" />
<polygon points="20.90,213.70 34.20,221.50 34.20,227.60 20.90,219.80" fill="#3a3a92" stroke="none" stroke-width="0" />
<polygon points="34.20,221.50 94.10,218.90 94.10,223.80 34.20,227.60" fill="#a8b0f4" stroke="none" stroke-width="0" />
<text transform="translate(63.45,179.10) scale(1,1.0)" x="0" y="0" font-size="8.1" font-weight="bold" fill="#1a3ae8" stroke="#1a3ae8" stroke-width="0.25" text-anchor="middle" font-family="Liberation Sans"  style="">Computation</text>
<text transform="translate(63.45,186.30) scale(1,1.0)" x="0" y="0" font-size="7.9" font-weight="bold" fill="#1a3ae8" stroke="#1a3ae8" stroke-width="0.25" text-anchor="middle" font-family="Liberation Sans"  style="">medium</text>
<text transform="translate(63.50,204.20) scale(1,1.0)" x="0" y="0" font-size="7.9" font-weight="bold" fill="#1a3ae8" stroke="#1a3ae8" stroke-width="0.25" text-anchor="middle" font-family="Liberation Sans"  style="">Memory</text>
<text transform="translate(63.50,212.00) scale(1,1.0)" x="0" y="0" font-size="7.9" font-weight="bold" fill="#1a3ae8" stroke="#1a3ae8" stroke-width="0.25" text-anchor="middle" font-family="Liberation Sans"  style="">medium</text>
<text transform="translate(30.00,243.50) scale(1,1.0)" x="0" y="0" font-size="9.78" font-weight="bold" fill="#000" stroke="#000" stroke-width="0.25" text-anchor="start" font-family="Liberation Sans"  style="">Artificial synapse</text>
<line x1="94.50" y1="167.00" x2="102.40" y2="167.00" stroke="#111" stroke-width="0.8" />
<circle cx="106.20" cy="167.00" r="3.80" fill="#fff" stroke="#111" stroke-width="0.9" />
<path d="M107.6,165.2 L105,167 L107.6,168.8" fill="none" stroke="#111" stroke-width="0.8" />
<line x1="110.00" y1="167.00" x2="114.50" y2="167.00" stroke="#111" stroke-width="0.8" />
<polygon points="116.20,167.00 113.40,165.30 113.40,168.70" fill="#111" stroke="none" stroke-width="0" />
<line x1="95.00" y1="159.90" x2="104.00" y2="159.90" stroke="#111" stroke-width="0.8" />
<polygon points="92.20,159.90 95.20,158.20 95.20,161.60" fill="#111" stroke="none" stroke-width="0" />
<line x1="94.50" y1="221.90" x2="106.00" y2="221.90" stroke="#111" stroke-width="0.8" />
<polygon points="108.20,221.90 105.20,220.10 105.20,223.70" fill="#111" stroke="none" stroke-width="0" />
<path d="M122.6,155.9 L128.6,155.9 L128.6,234.9 L122.6,234.9" fill="none" stroke="#111" stroke-width="0.9" />
<text transform="translate(137.00,147.10) scale(1,1.1)" x="0" y="0" font-size="9.6" font-weight="bold" fill="#f50f0f" stroke="#f50f0f" stroke-width="0.25" text-anchor="start" font-family="Liberation Sans"  style="">Short</text>
<text transform="translate(237.30,137.80) scale(1,1.08)" x="0" y="0" font-size="9.7" font-weight="bold" fill="#f50f0f" stroke="#f50f0f" stroke-width="0.25" text-anchor="start" font-family="Liberation Sans"  style="">Relaxation time</text>
<text transform="translate(389.20,146.40) scale(1,1.0)" x="0" y="0" font-size="9.8" font-weight="bold" fill="#f50f0f" stroke="#f50f0f" stroke-width="0.25" text-anchor="start" font-family="Liberation Sans"  style="">Long</text>
<rect x="164.80" y="140.40" width="213.00" height="4.80" fill="url(#gRelax)" stroke="none" stroke-width="0" />
<polygon points="377.00,137.50 386.30,143.00 377.00,148.60" fill="#1c1c1c" stroke="none" stroke-width="0" />
<text transform="translate(140.60,251.50) scale(1,1.0)" x="0" y="0" font-size="9.3" font-weight="bold" fill="#1a30e0" stroke="#1a30e0" stroke-width="0.25" text-anchor="start" font-family="Liberation Sans"  style="">Low</text>
<text transform="translate(388.40,250.60) scale(1,1.0)" x="0" y="0" font-size="10.2" font-weight="bold" fill="#1a30e0" stroke="#1a30e0" stroke-width="0.25" text-anchor="start" font-family="Liberation Sans"  style="">High</text>
<rect x="164.80" y="245.20" width="213.00" height="4.80" fill="url(#gMw)" stroke="none" stroke-width="0" />
<polygon points="376.90,241.60 386.00,247.70 376.90,254.10" fill="#3a1ed0" stroke="none" stroke-width="0" />
<text transform="translate(239.80,261.40) scale(1,1.0)" x="0" y="0" font-size="9.6" font-weight="bold" fill="#1a30e0" stroke="#1a30e0" stroke-width="0.25" text-anchor="start" font-family="Liberation Sans"  style=""><tspan font-style="italic">M</tspan><tspan font-size="5.5" dy="1.8">w</tspan><tspan dy="-1.8"> of polymer</tspan></text>
<rect x="143.40" y="155.80" width="79.50" height="29.50" fill="#fff" stroke="#555" stroke-width="0.9" rx="4.5"/>
<rect x="231.10" y="155.80" width="84.90" height="29.50" fill="#fff" stroke="#555" stroke-width="0.9" rx="4.5"/>
<rect x="323.50" y="155.80" width="85.50" height="29.50" fill="#fff" stroke="#555" stroke-width="0.9" rx="4.5"/>
<rect x="152.50" y="166.50" width="22.20" height="17.80" fill="#d6dee8" stroke="none" stroke-width="0" />
<polyline points="162.20,167.50 164.80,168.40 162.20,169.30 164.80,170.20 162.20,171.10 164.80,172.00 162.20,172.90 164.80,173.80 162.20,174.70 164.80,175.60 162.20,176.50 164.80,177.40 162.20,178.30 164.80,179.20 162.20,180.10 164.80,181.00 162.20,181.90 164.80,182.80" fill="none" stroke="#5a7090" stroke-width="0.9" />
<line x1="178.30" y1="175.40" x2="186.00" y2="175.40" stroke="#6a56e6" stroke-width="2.0" />
<polygon points="188.50,175.40 184.70,172.40 184.70,178.40" fill="#6a56e6" stroke="none" stroke-width="0" />
<rect x="192.40" y="166.50" width="21.20" height="17.80" fill="#d8e0ea" stroke="none" stroke-width="0" />
<circle cx="205.21" cy="179.13" r="0.65" fill="#4a6890" stroke="none" stroke-width="0" />
<circle cx="208.31" cy="182.14" r="0.65" fill="#4a6890" stroke="none" stroke-width="0" />
<circle cx="207.32" cy="181.83" r="0.65" fill="#4a6890" stroke="none" stroke-width="0" />
<circle cx="194.52" cy="174.98" r="0.65" fill="#4a6890" stroke="none" stroke-width="0" />
<circle cx="210.98" cy="177.73" r="0.65" fill="#4a6890" stroke="none" stroke-width="0" />
<circle cx="210.22" cy="169.70" r="0.65" fill="#4a6890" stroke="none" stroke-width="0" />
<circle cx="202.44" cy="171.70" r="0.65" fill="#4a6890" stroke="none" stroke-width="0" />
<circle cx="203.79" cy="176.61" r="0.65" fill="#4a6890" stroke="none" stroke-width="0" />
<circle cx="194.24" cy="171.25" r="0.65" fill="#4a6890" stroke="none" stroke-width="0" />
<circle cx="199.03" cy="181.75" r="0.65" fill="#4a6890" stroke="none" stroke-width="0" />
<circle cx="207.78" cy="170.39" r="0.65" fill="#4a6890" stroke="none" stroke-width="0" />
<circle cx="208.35" cy="170.08" r="0.65" fill="#4a6890" stroke="none" stroke-width="0" />
<circle cx="205.11" cy="169.90" r="0.65" fill="#4a6890" stroke="none" stroke-width="0" />
<circle cx="194.03" cy="181.07" r="0.65" fill="#4a6890" stroke="none" stroke-width="0" />
<circle cx="197.77" cy="171.23" r="0.65" fill="#4a6890" stroke="none" stroke-width="0" />
<circle cx="211.68" cy="181.09" r="0.65" fill="#4a6890" stroke="none" stroke-width="0" />
<circle cx="199.21" cy="182.42" r="0.65" fill="#4a6890" stroke="none" stroke-width="0" />
<circle cx="203.71" cy="178.17" r="0.65" fill="#4a6890" stroke="none" stroke-width="0" />
<circle cx="197.69" cy="182.11" r="0.65" fill="#4a6890" stroke="none" stroke-width="0" />
<circle cx="206.43" cy="182.50" r="0.65" fill="#4a6890" stroke="none" stroke-width="0" />
<text transform="translate(162.20,156.60) scale(1,1.0)" x="0" y="0" font-size="8.2" font-weight="bold" fill="#000" stroke="#000" stroke-width="0.2" text-anchor="middle" font-family="Liberation Sans"  style="">CF</text>
<text transform="translate(163.70,164.10) scale(1,1.0)" x="0" y="0" font-size="8.16" font-weight="bold" fill="#000" stroke="#000" stroke-width="0.2" text-anchor="middle" font-family="Liberation Sans"  style="">formation</text>
<text transform="translate(202.10,156.60) scale(1,1.0)" x="0" y="0" font-size="8.2" font-weight="bold" fill="#000" stroke="#000" stroke-width="0.2" text-anchor="middle" font-family="Liberation Sans"  style="">Abrupt</text>
<text transform="translate(204.00,164.10) scale(1,1.0)" x="0" y="0" font-size="8.25" font-weight="bold" fill="#000" stroke="#000" stroke-width="0.2" text-anchor="middle" font-family="Liberation Sans"  style="">diffusion</text>
<rect x="242.30" y="166.50" width="22.20" height="17.80" fill="#d8d8f0" stroke="none" stroke-width="0" />
<polyline points="252.10,167.50 254.70,168.40 252.10,169.30 254.70,170.20 252.10,171.10 254.70,172.00 252.10,172.90 254.70,173.80 252.10,174.70 254.70,175.60 252.10,176.50 254.70,177.40 252.10,178.30 254.70,179.20 252.10,180.10 254.70,181.00 252.10,181.90 254.70,182.80" fill="none" stroke="#5a6aa8" stroke-width="0.9" />
<line x1="268.70" y1="175.40" x2="277.00" y2="175.40" stroke="#6a56e6" stroke-width="2.0" />
<polygon points="279.50,175.40 275.70,172.40 275.70,178.40" fill="#6a56e6" stroke="none" stroke-width="0" />
<rect x="282.60" y="166.50" width="18.50" height="17.80" fill="#d8d8f0" stroke="none" stroke-width="0" />
<circle cx="291.14" cy="167.80" r="0.70" fill="#4a5aa8" stroke="none" stroke-width="0" />
<circle cx="292.85" cy="168.80" r="0.70" fill="#4a5aa8" stroke="none" stroke-width="0" />
<circle cx="293.91" cy="169.80" r="0.70" fill="#4a5aa8" stroke="none" stroke-width="0" />
<circle cx="292.64" cy="170.80" r="0.70" fill="#4a5aa8" stroke="none" stroke-width="0" />
<circle cx="291.08" cy="171.80" r="0.70" fill="#4a5aa8" stroke="none" stroke-width="0" />
<circle cx="289.64" cy="172.80" r="0.70" fill="#4a5aa8" stroke="none" stroke-width="0" />
<circle cx="288.63" cy="173.80" r="0.70" fill="#4a5aa8" stroke="none" stroke-width="0" />
<circle cx="289.83" cy="174.80" r="0.70" fill="#4a5aa8" stroke="none" stroke-width="0" />
<circle cx="291.61" cy="175.80" r="0.70" fill="#4a5aa8" stroke="none" stroke-width="0" />
<circle cx="293.30" cy="176.80" r="0.70" fill="#4a5aa8" stroke="none" stroke-width="0" />
<circle cx="292.89" cy="177.80" r="0.70" fill="#4a5aa8" stroke="none" stroke-width="0" />
<circle cx="292.25" cy="178.80" r="0.70" fill="#4a5aa8" stroke="none" stroke-width="0" />
<circle cx="290.33" cy="179.80" r="0.70" fill="#4a5aa8" stroke="none" stroke-width="0" />
<circle cx="289.75" cy="180.80" r="0.70" fill="#4a5aa8" stroke="none" stroke-width="0" />
<circle cx="289.28" cy="181.80" r="0.70" fill="#4a5aa8" stroke="none" stroke-width="0" />
<circle cx="289.47" cy="182.80" r="0.70" fill="#4a5aa8" stroke="none" stroke-width="0" />
<text transform="translate(251.60,156.60) scale(1,1.0)" x="0" y="0" font-size="8.2" font-weight="bold" fill="#000" stroke="#000" stroke-width="0.2" text-anchor="middle" font-family="Liberation Sans"  style="">CF</text>
<text transform="translate(253.40,164.10) scale(1,1.0)" x="0" y="0" font-size="8.16" font-weight="bold" fill="#000" stroke="#000" stroke-width="0.2" text-anchor="middle" font-family="Liberation Sans"  style="">formation</text>
<text transform="translate(294.30,156.60) scale(1,1.0)" x="0" y="0" font-size="8.2" font-weight="bold" fill="#000" stroke="#000" stroke-width="0.2" text-anchor="middle" font-family="Liberation Sans"  style="">Gradual</text>
<text transform="translate(294.40,164.10) scale(1,1.0)" x="0" y="0" font-size="8.25" font-weight="bold" fill="#000" stroke="#000" stroke-width="0.2" text-anchor="middle" font-family="Liberation Sans"  style="">diffusion</text>
<rect x="334.00" y="166.50" width="22.00" height="17.80" fill="#d8d8f0" stroke="none" stroke-width="0" />
<polyline points="345.20,167.50 347.80,168.40 345.20,169.30 347.80,170.20 345.20,171.10 347.80,172.00 345.20,172.90 347.80,173.80 345.20,174.70 347.80,175.60 345.20,176.50 347.80,177.40 345.20,178.30 347.80,179.20 345.20,180.10 347.80,181.00 345.20,181.90 347.80,182.80" fill="none" stroke="#5a5ab0" stroke-width="0.9" />
<line x1="361.30" y1="175.40" x2="370.00" y2="175.40" stroke="#6a56e6" stroke-width="2.0" />
<polygon points="372.50,175.40 368.70,172.40 368.70,178.40" fill="#6a56e6" stroke="none" stroke-width="0" />
<rect x="375.50" y="166.50" width="16.00" height="17.80" fill="#d8d8f0" stroke="none" stroke-width="0" />
<polyline points="383.70,167.50 386.30,168.40 383.70,169.30 386.30,170.20 383.70,171.10 386.30,172.00 383.70,172.90 386.30,173.80 383.70,174.70 386.30,175.60 383.70,176.50 386.30,177.40 383.70,178.30 386.30,179.20 383.70,180.10 386.30,181.00 383.70,181.90 386.30,182.80" fill="none" stroke="#5a5ab0" stroke-width="0.9" />
<text transform="translate(344.30,156.60) scale(1,1.0)" x="0" y="0" font-size="8.2" font-weight="bold" fill="#000" stroke="#000" stroke-width="0.2" text-anchor="middle" font-family="Liberation Sans"  style="">CF</text>
<text transform="translate(346.00,164.10) scale(1,1.0)" x="0" y="0" font-size="8.16" font-weight="bold" fill="#000" stroke="#000" stroke-width="0.2" text-anchor="middle" font-family="Liberation Sans"  style="">formation</text>
<text transform="translate(387.90,159.60) scale(1,1.0)" x="0" y="0" font-size="7.6" font-weight="bold" fill="#000" stroke="#000" stroke-width="0.2" text-anchor="middle" font-family="Liberation Sans"  style="">stable CF</text>
<defs><linearGradient id="gBand1" x1="0" y1="0" x2="0" y2="1"><stop offset="0" stop-color="#7088a8"/><stop offset="1" stop-color="#e0e6ee"/></linearGradient></defs>
<polygon points="158.30,187.30 208.80,187.30 206.80,193.10 160.30,193.10" fill="url(#gPlate)" stroke="none" stroke-width="0" />
<rect x="157.80" y="193.10" width="51.50" height="21.70" fill="#e0e6ee" stroke="none" stroke-width="0" />
<polygon points="160.30,193.10 206.80,193.10 209.30,196.80 157.80,196.80" fill="url(#gBand1)" stroke="none" stroke-width="0" />
<polygon points="160.80,214.80 206.30,214.80 209.30,218.10 157.80,218.10" fill="#7a88c0" stroke="none" stroke-width="0" />
<rect x="157.80" y="218.10" width="51.50" height="6.50" fill="#a8aef2" stroke="none" stroke-width="0" />
<line x1="156.60" y1="185.40" x2="183.55" y2="215.00" stroke="#333" stroke-width="0.6" />
<line x1="209.60" y1="185.40" x2="183.55" y2="215.00" stroke="#333" stroke-width="0.6" />
<ellipse cx="183.55" cy="206.20" rx="7.60" ry="8.40" fill="none" stroke="#333" stroke-width="0.7" stroke-dasharray="1.3,0.7"/>
<circle cx="180.07" cy="208.78" r="0.65" fill="#4a6890" stroke="none" stroke-width="0" />
<circle cx="184.95" cy="205.92" r="0.65" fill="#4a6890" stroke="none" stroke-width="0" />
<circle cx="180.60" cy="210.18" r="0.65" fill="#4a6890" stroke="none" stroke-width="0" />
<circle cx="186.75" cy="206.37" r="0.65" fill="#4a6890" stroke="none" stroke-width="0" />
<circle cx="183.60" cy="202.61" r="0.65" fill="#4a6890" stroke="none" stroke-width="0" />
<circle cx="178.38" cy="204.45" r="0.65" fill="#4a6890" stroke="none" stroke-width="0" />
<circle cx="184.44" cy="200.34" r="0.65" fill="#4a6890" stroke="none" stroke-width="0" />
<circle cx="186.61" cy="202.56" r="0.65" fill="#4a6890" stroke="none" stroke-width="0" />
<circle cx="180.77" cy="199.98" r="0.65" fill="#4a6890" stroke="none" stroke-width="0" />
<circle cx="188.72" cy="209.45" r="0.65" fill="#4a6890" stroke="none" stroke-width="0" />
<circle cx="187.45" cy="207.78" r="0.65" fill="#4a6890" stroke="none" stroke-width="0" />
<circle cx="178.70" cy="203.87" r="0.65" fill="#4a6890" stroke="none" stroke-width="0" />
<circle cx="183.52" cy="200.98" r="0.65" fill="#4a6890" stroke="none" stroke-width="0" />
<circle cx="188.25" cy="204.41" r="0.65" fill="#4a6890" stroke="none" stroke-width="0" />
<circle cx="179.96" cy="210.52" r="0.65" fill="#4a6890" stroke="none" stroke-width="0" />
<circle cx="179.65" cy="212.02" r="0.65" fill="#4a6890" stroke="none" stroke-width="0" />
<circle cx="183.06" cy="206.91" r="0.65" fill="#4a6890" stroke="none" stroke-width="0" />
<circle cx="181.92" cy="205.99" r="0.65" fill="#4a6890" stroke="none" stroke-width="0" />
<defs><linearGradient id="gBand2" x1="0" y1="0" x2="0" y2="1"><stop offset="0" stop-color="#5a58c0"/><stop offset="1" stop-color="#dcdcf4"/></linearGradient></defs>
<polygon points="249.80,187.30 298.40,187.30 296.40,193.10 251.80,193.10" fill="url(#gPlate)" stroke="none" stroke-width="0" />
<rect x="249.30" y="193.10" width="49.60" height="21.70" fill="#dcdcf4" stroke="none" stroke-width="0" />
<polygon points="251.80,193.10 296.40,193.10 298.90,196.80 249.30,196.80" fill="url(#gBand2)" stroke="none" stroke-width="0" />
<polygon points="252.30,214.80 295.90,214.80 298.90,218.10 249.30,218.10" fill="#7070d0" stroke="none" stroke-width="0" />
<rect x="249.30" y="218.10" width="49.60" height="6.50" fill="#a8aef2" stroke="none" stroke-width="0" />
<line x1="246.70" y1="185.40" x2="274.10" y2="215.00" stroke="#333" stroke-width="0.6" />
<line x1="299.80" y1="185.40" x2="274.10" y2="215.00" stroke="#333" stroke-width="0.6" />
<ellipse cx="274.10" cy="206.20" rx="7.60" ry="8.40" fill="none" stroke="#333" stroke-width="0.7" stroke-dasharray="1.3,0.7"/>
<circle cx="274.10" cy="199.20" r="0.65" fill="#4a50b0" stroke="none" stroke-width="0" />
<circle cx="275.74" cy="200.15" r="0.65" fill="#4a50b0" stroke="none" stroke-width="0" />
<circle cx="276.49" cy="201.10" r="0.65" fill="#4a50b0" stroke="none" stroke-width="0" />
<circle cx="275.97" cy="202.05" r="0.65" fill="#4a50b0" stroke="none" stroke-width="0" />
<circle cx="274.44" cy="203.00" r="0.65" fill="#4a50b0" stroke="none" stroke-width="0" />
<circle cx="272.73" cy="203.95" r="0.65" fill="#4a50b0" stroke="none" stroke-width="0" />
<circle cx="272.04" cy="205.85" r="0.65" fill="#4a50b0" stroke="none" stroke-width="0" />
<circle cx="273.43" cy="206.80" r="0.65" fill="#4a50b0" stroke="none" stroke-width="0" />
<circle cx="275.18" cy="207.75" r="0.65" fill="#4a50b0" stroke="none" stroke-width="0" />
<circle cx="276.35" cy="208.70" r="0.65" fill="#4a50b0" stroke="none" stroke-width="0" />
<circle cx="275.09" cy="210.60" r="0.65" fill="#4a50b0" stroke="none" stroke-width="0" />
<circle cx="273.33" cy="211.55" r="0.65" fill="#4a50b0" stroke="none" stroke-width="0" />
<circle cx="271.99" cy="212.50" r="0.65" fill="#4a50b0" stroke="none" stroke-width="0" />
<circle cx="271.78" cy="213.45" r="0.65" fill="#4a50b0" stroke="none" stroke-width="0" />
<defs><linearGradient id="gBand3" x1="0" y1="0" x2="0" y2="1"><stop offset="0" stop-color="#5a58c0"/><stop offset="1" stop-color="#dad8f4"/></linearGradient></defs>
<polygon points="344.10,187.30 392.70,187.30 390.70,193.10 346.10,193.10" fill="url(#gPlate)" stroke="none" stroke-width="0" />
<rect x="343.60" y="193.10" width="49.60" height="21.70" fill="#dad8f4" stroke="none" stroke-width="0" />
<polygon points="346.10,193.10 390.70,193.10 393.20,196.80 343.60,196.80" fill="url(#gBand3)" stroke="none" stroke-width="0" />
<polygon points="346.60,214.80 390.20,214.80 393.20,218.10 343.60,218.10" fill="#7070d0" stroke="none" stroke-width="0" />
<rect x="343.60" y="218.10" width="49.60" height="6.50" fill="#a8aef2" stroke="none" stroke-width="0" />
<line x1="342.10" y1="185.40" x2="368.40" y2="215.00" stroke="#333" stroke-width="0.6" />
<line x1="393.90" y1="185.40" x2="368.40" y2="215.00" stroke="#333" stroke-width="0.6" />
<ellipse cx="368.40" cy="206.20" rx="7.60" ry="8.40" fill="none" stroke="#333" stroke-width="0.7" stroke-dasharray="1.3,0.7"/>
<polyline points="367.30,198.70 369.50,199.60 367.30,200.50 369.50,201.40 367.30,202.30 369.50,203.20 367.30,204.10 369.50,205.00 367.30,205.90 369.50,206.80 367.30,207.70 369.50,208.60 367.30,209.50 369.50,210.40 367.30,211.30 369.50,212.20 367.30,213.10" fill="none" stroke="#4a4ab0" stroke-width="0.9" />
<text transform="translate(183.60,231.70) scale(1,1.0)" x="0" y="0" font-size="7.5" font-weight="bold" fill="#000" stroke="#000" stroke-width="0.25" text-anchor="middle" font-family="Liberation Sans" letter-spacing="0.3" style="">Device 1</text>
<text transform="translate(183.60,239.10) scale(1,1.0)" x="0" y="0" font-size="7.4" font-weight="bold" fill="#000" stroke="#000" stroke-width="0.25" text-anchor="middle" font-family="Liberation Sans" letter-spacing="0.4" style="">(<tspan font-style="italic">M</tspan><tspan font-size="4.5" dy="1.8">w</tspan><tspan dy="-1.8"> = 120 kDa)</tspan></text>
<text transform="translate(274.10,231.70) scale(1,1.0)" x="0" y="0" font-size="7.5" font-weight="bold" fill="#000" stroke="#000" stroke-width="0.25" text-anchor="middle" font-family="Liberation Sans" letter-spacing="0.3" style="">Device 2</text>
<text transform="translate(274.10,239.10) scale(1,1.0)" x="0" y="0" font-size="7.4" font-weight="bold" fill="#000" stroke="#000" stroke-width="0.25" text-anchor="middle" font-family="Liberation Sans" letter-spacing="0.4" style="">(<tspan font-style="italic">M</tspan><tspan font-size="4.5" dy="1.8">w</tspan><tspan dy="-1.8"> = 350 kDa)</tspan></text>
<text transform="translate(368.40,231.70) scale(1,1.0)" x="0" y="0" font-size="7.5" font-weight="bold" fill="#000" stroke="#000" stroke-width="0.25" text-anchor="middle" font-family="Liberation Sans" letter-spacing="0.3" style="">Device 3</text>
<text transform="translate(368.40,239.10) scale(1,1.0)" x="0" y="0" font-size="7.4" font-weight="bold" fill="#000" stroke="#000" stroke-width="0.25" text-anchor="middle" font-family="Liberation Sans" letter-spacing="0.4" style="">(<tspan font-style="italic">M</tspan><tspan font-size="4.5" dy="1.8">w</tspan><tspan dy="-1.8"> = 996 kDa)</tspan></text>
<text transform="translate(419.30,139.60) scale(1,1.0)" x="0" y="0" font-size="14.5" font-weight="normal" fill="#000" stroke="#000" stroke-width="0.35" text-anchor="start" font-family="Liberation Sans"  style="">e</text>
<rect x="456.70" y="146.80" width="111.30" height="79.20" fill="none" stroke="#222" stroke-width="1.0" />
<text transform="translate(453.00,222.20) scale(1,1.0)" x="0" y="0" font-size="5.0" font-weight="bold" fill="#111" stroke="#111" stroke-width="0.25" text-anchor="end" font-family="Liberation Sans"  style="">0</text>
<line x1="456.70" y1="220.40" x2="458.30" y2="220.40" stroke="#333" stroke-width="0.6" />
<text transform="translate(453.00,200.07) scale(1,1.0)" x="0" y="0" font-size="5.0" font-weight="bold" fill="#111" stroke="#111" stroke-width="0.25" text-anchor="end" font-family="Liberation Sans"  style="">100</text>
<line x1="456.70" y1="198.27" x2="458.30" y2="198.27" stroke="#333" stroke-width="0.6" />
<text transform="translate(453.00,177.93) scale(1,1.0)" x="0" y="0" font-size="5.0" font-weight="bold" fill="#111" stroke="#111" stroke-width="0.25" text-anchor="end" font-family="Liberation Sans"  style="">200</text>
<line x1="456.70" y1="176.13" x2="458.30" y2="176.13" stroke="#333" stroke-width="0.6" />
<text transform="translate(453.00,155.80) scale(1,1.0)" x="0" y="0" font-size="5.0" font-weight="bold" fill="#111" stroke="#111" stroke-width="0.25" text-anchor="end" font-family="Liberation Sans"  style="">300</text>
<line x1="456.70" y1="154.00" x2="458.30" y2="154.00" stroke="#333" stroke-width="0.6" />
<line x1="456.70" y1="220.40" x2="457.70" y2="220.40" stroke="#333" stroke-width="0.4" />
<line x1="456.70" y1="209.33" x2="457.70" y2="209.33" stroke="#333" stroke-width="0.4" />
<line x1="456.70" y1="198.27" x2="457.70" y2="198.27" stroke="#333" stroke-width="0.4" />
<line x1="456.70" y1="187.20" x2="457.70" y2="187.20" stroke="#333" stroke-width="0.4" />
<line x1="456.70" y1="176.13" x2="457.70" y2="176.13" stroke="#333" stroke-width="0.4" />
<line x1="456.70" y1="165.07" x2="457.70" y2="165.07" stroke="#333" stroke-width="0.4" />
<line x1="456.70" y1="154.00" x2="457.70" y2="154.00" stroke="#333" stroke-width="0.4" />
<text transform="translate(463.20,234.60) scale(1,1.0)" x="0" y="0" font-size="5.0" font-weight="bold" fill="#111" stroke="#111" stroke-width="0.25" text-anchor="middle" font-family="Liberation Sans"  style="">0</text>
<text transform="translate(488.02,234.60) scale(1,1.0)" x="0" y="0" font-size="5.0" font-weight="bold" fill="#111" stroke="#111" stroke-width="0.25" text-anchor="middle" font-family="Liberation Sans"  style="">2</text>
<text transform="translate(512.85,234.60) scale(1,1.0)" x="0" y="0" font-size="5.0" font-weight="bold" fill="#111" stroke="#111" stroke-width="0.25" text-anchor="middle" font-family="Liberation Sans"  style="">4</text>
<text transform="translate(537.67,234.60) scale(1,1.0)" x="0" y="0" font-size="5.0" font-weight="bold" fill="#111" stroke="#111" stroke-width="0.25" text-anchor="middle" font-family="Liberation Sans"  style="">6</text>
<text transform="translate(562.50,234.60) scale(1,1.0)" x="0" y="0" font-size="5.0" font-weight="bold" fill="#111" stroke="#111" stroke-width="0.25" text-anchor="middle" font-family="Liberation Sans"  style="">8</text>
<line x1="463.20" y1="226.00" x2="463.20" y2="224.40" stroke="#333" stroke-width="0.5" />
<line x1="475.61" y1="226.00" x2="475.61" y2="225.00" stroke="#333" stroke-width="0.5" />
<line x1="488.02" y1="226.00" x2="488.02" y2="224.40" stroke="#333" stroke-width="0.5" />
<line x1="500.44" y1="226.00" x2="500.44" y2="225.00" stroke="#333" stroke-width="0.5" />
<line x1="512.85" y1="226.00" x2="512.85" y2="224.40" stroke="#333" stroke-width="0.5" />
<line x1="525.26" y1="226.00" x2="525.26" y2="225.00" stroke="#333" stroke-width="0.5" />
<line x1="537.67" y1="226.00" x2="537.67" y2="224.40" stroke="#333" stroke-width="0.5" />
<line x1="550.09" y1="226.00" x2="550.09" y2="225.00" stroke="#333" stroke-width="0.5" />
<line x1="562.50" y1="226.00" x2="562.50" y2="224.40" stroke="#333" stroke-width="0.5" />
<text transform="translate(439.60,183.40) rotate(-90) scale(1,1.0)" x="0" y="0" font-size="8.0" font-weight="bold" fill="#000" stroke="#000" stroke-width="0.25" text-anchor="middle" font-family="Liberation Sans" ><tspan font-style="italic">Δw</tspan> (%)</text>
<text transform="translate(498.00,245.60) scale(1,1.0)" x="0" y="0" font-size="9.6" font-weight="bold" fill="#000" stroke="#000" stroke-width="0.25" text-anchor="start" font-family="Liberation Sans"  style=""><tspan font-style="italic">t</tspan><tspan font-size="5.5" dy="1.8">in</tspan><tspan dy="-1.8"> (ms)</tspan></text>
<line x1="467.70" y1="158.10" x2="467.70" y2="163.70" stroke="#111" stroke-width="1.1" />
<line x1="466.40" y1="158.40" x2="469.00" y2="158.40" stroke="#111" stroke-width="0.8" />
<line x1="466.40" y1="163.40" x2="469.00" y2="163.40" stroke="#111" stroke-width="0.8" />
<line x1="470.20" y1="167.90" x2="470.20" y2="173.50" stroke="#111" stroke-width="1.1" />
<line x1="468.90" y1="168.20" x2="471.50" y2="168.20" stroke="#111" stroke-width="0.8" />
<line x1="468.90" y1="173.20" x2="471.50" y2="173.20" stroke="#111" stroke-width="0.8" />
<line x1="472.80" y1="178.20" x2="472.80" y2="183.40" stroke="#111" stroke-width="1.1" />
<line x1="471.50" y1="178.50" x2="474.10" y2="178.50" stroke="#111" stroke-width="0.8" />
<line x1="471.50" y1="183.10" x2="474.10" y2="183.10" stroke="#111" stroke-width="0.8" />
<line x1="475.40" y1="192.80" x2="475.40" y2="198.60" stroke="#111" stroke-width="1.1" />
<line x1="474.10" y1="193.10" x2="476.70" y2="193.10" stroke="#111" stroke-width="0.8" />
<line x1="474.10" y1="198.30" x2="476.70" y2="198.30" stroke="#111" stroke-width="0.8" />
<line x1="487.60" y1="205.50" x2="487.60" y2="211.10" stroke="#111" stroke-width="1.1" />
<line x1="486.30" y1="205.80" x2="488.90" y2="205.80" stroke="#111" stroke-width="0.8" />
<line x1="486.30" y1="210.80" x2="488.90" y2="210.80" stroke="#111" stroke-width="0.8" />
<line x1="512.40" y1="215.00" x2="512.40" y2="217.40" stroke="#111" stroke-width="1.1" />
<line x1="511.10" y1="215.30" x2="513.70" y2="215.30" stroke="#111" stroke-width="0.8" />
<line x1="511.10" y1="217.10" x2="513.70" y2="217.10" stroke="#111" stroke-width="0.8" />
<line x1="537.70" y1="218.20" x2="537.70" y2="219.20" stroke="#111" stroke-width="1.1" />
<line x1="536.40" y1="218.50" x2="539.00" y2="218.50" stroke="#111" stroke-width="0.8" />
<line x1="536.40" y1="218.90" x2="539.00" y2="218.90" stroke="#111" stroke-width="0.8" />
<line x1="562.50" y1="221.00" x2="562.50" y2="223.40" stroke="#111" stroke-width="1.1" />
<line x1="561.20" y1="221.30" x2="563.80" y2="221.30" stroke="#111" stroke-width="0.8" />
<line x1="561.20" y1="223.10" x2="563.80" y2="223.10" stroke="#111" stroke-width="0.8" />
<polyline points="525.40,169.50 528.70,169.50 528.70,154.60 532.50,154.60 532.50,169.50 540.00,169.50 540.00,154.60 543.60,154.60 543.60,169.50 550.70,169.50 550.70,154.60 554.20,154.60 554.20,169.50 556.80,169.50" fill="none" stroke="#222" stroke-width="0.7" />
<line x1="533.00" y1="167.60" x2="539.60" y2="167.60" stroke="#222" stroke-width="0.5" />
<text transform="translate(533.00,177.60) scale(1,1.0)" x="0" y="0" font-size="8.0" font-weight="bold" fill="#000" stroke="#000" stroke-width="0.25" text-anchor="start" font-family="Liberation Sans"  style=""><tspan font-style="italic">t</tspan><tspan font-size="4.5" dy="1.5">in</tspan></text>
<text transform="translate(3.70,275.90) scale(1,1.0)" x="0" y="0" font-size="14.5" font-weight="normal" fill="#000" stroke="#000" stroke-width="0.35" text-anchor="start" font-family="Liberation Sans"  style="">f</text>
<text transform="translate(2.20,284.80) scale(1,0.95)" x="0" y="0" font-size="8.3" font-weight="bold" fill="#000" stroke="#000" stroke-width="0.25" text-anchor="start" font-family="Liberation Sans"  style="">Flexible artificial</text>
<text transform="translate(18.20,290.30) scale(1,0.92)" x="0" y="0" font-size="8.1" font-weight="bold" fill="#000" stroke="#000" stroke-width="0.25" text-anchor="start" font-family="Liberation Sans"  style="">synapse</text>
<defs><linearGradient id="gPhoto" x1="0" y1="0" x2="1" y2="0.3"><stop offset="0" stop-color="#acacac"/><stop offset="1" stop-color="#c8c8c8"/></linearGradient><radialGradient id="gGlove" cx="0.45" cy="0.4" r="0.75"><stop offset="0" stop-color="#3a88e2"/><stop offset="0.75" stop-color="#2a74d4"/><stop offset="1" stop-color="#1a5cb8"/></radialGradient><linearGradient id="gFilm" x1="0" y1="0" x2="1" y2="0"><stop offset="0" stop-color="#c8c8c8"/><stop offset="1" stop-color="#e0e0e0"/></linearGradient><clipPath id="clipPhoto"><rect x="8.6" y="294.4" width="56.1" height="68.3"/></clipPath></defs>
<g clip-path="url(#clipPhoto)">
<rect x="8.60" y="294.40" width="56.10" height="68.30" fill="url(#gPhoto)" stroke="none" stroke-width="0" />
<path d="M6,337.5 C16,335.5 26,334.5 36,334 L37,338.5 C28,339.5 16,341 6,343.5 Z" fill="#e6e6e6" stroke="none" stroke-width="1" />
<polygon points="35.60,331.60 49.20,332.60 50.00,349.00 37.70,349.00" fill="#d6d6d6" stroke="none" stroke-width="0" />
<path d="M6,305.6 C12,303.4 20,302.4 29.5,302.3 C36,302.4 44,305 49,310.4 C53,314.5 56.5,319 57.4,324 C57.8,327 56,328.6 53,329.4 C50,330.4 46,331 41,330.6 C36,330.4 32,331.6 26,333.6 C18,335.8 12,336.6 6,337 Z" fill="url(#gGlove)" stroke="none" stroke-width="1" />
<path d="M14,316 C22,311 32,310 42,313" fill="none" stroke="#1a5cb8" stroke-width="1.0" />
<path d="M26,326 C34,323 44,323 52,326" fill="none" stroke="#1a5cb8" stroke-width="0.8" />
<path d="M6,343.2 C12,343.4 20,343.6 27,345.4 C33,347 39,348.4 43,350 C47,352 50,355 51.5,359 L52.5,366 L6,366 Z" fill="url(#gGlove)" stroke="none" stroke-width="1" />
</g>
<rect x="8.60" y="294.40" width="56.10" height="68.30" fill="none" stroke="#333" stroke-width="0.8" />
<rect x="68.30" y="273.80" width="76.90" height="89.00" fill="#fff" stroke="#f0a060" stroke-width="0.9" />
<line x1="37.80" y1="332.00" x2="68.30" y2="273.40" stroke="#f0a060" stroke-width="0.6" />
<line x1="37.80" y1="332.00" x2="68.30" y2="362.80" stroke="#f0a060" stroke-width="0.6" />
<rect x="77.00" y="277.40" width="39.50" height="2.80" fill="url(#gPlate)" stroke="none" stroke-width="0" />
<polygon points="77.00,280.20 116.50,280.20 113.50,285.70 80.00,285.70" fill="#3c4a98" stroke="none" stroke-width="0" />
<rect x="77.00" y="290.30" width="39.50" height="3.60" fill="#f2d08a" stroke="none" stroke-width="0" />
<rect x="77.00" y="293.90" width="39.50" height="6.90" fill="#f4f6fa" stroke="none" stroke-width="0" />
<path d="M96.5,294.2 l-1,1.2 l1.6,1.2 l-1.4,1.2 l1.2,1.2" fill="none" stroke="#777" stroke-width="0.5" />
<polygon points="80.00,300.80 113.50,300.80 116.50,307.70 77.00,307.70" fill="#5a78d8" stroke="none" stroke-width="0" />
<text transform="translate(96.80,306.50) scale(1,1.0)" x="0" y="0" font-size="5.0" font-weight="bold" fill="#fff" stroke="#fff" stroke-width="0.25" text-anchor="middle" font-family="Liberation Sans"  style="">Unstable CF</text>
<text transform="translate(96.50,314.00) scale(1,1.0)" x="0" y="0" font-size="4.9" font-weight="bold" fill="#000" stroke="#000" stroke-width="0.25" text-anchor="middle" font-family="Liberation Sans"  style="">HRS</text>
<rect x="77.00" y="322.90" width="39.50" height="2.70" fill="url(#gPlate)" stroke="none" stroke-width="0" />
<polygon points="77.00,325.60 116.50,325.60 113.50,331.10 80.00,331.10" fill="#3c4a98" stroke="none" stroke-width="0" />
<rect x="77.00" y="335.20" width="39.50" height="4.20" fill="#f2d08a" stroke="none" stroke-width="0" />
<text transform="translate(96.80,338.80) scale(1,1.0)" x="0" y="0" font-size="4.6" font-weight="bold" fill="#111" stroke="#111" stroke-width="0.25" text-anchor="middle" font-family="Liberation Sans"  style="">Stable CF</text>
<line x1="96.80" y1="331.10" x2="96.80" y2="335.20" stroke="#555" stroke-width="0.5" />
<rect x="77.00" y="339.40" width="39.50" height="3.60" fill="#f4f6fa" stroke="none" stroke-width="0" />
<path d="M96.5,339.7 l-1,1.2 l1.6,1.2 l-1.4,1.2 l1.2,1.2" fill="none" stroke="#777" stroke-width="0.5" />
<polygon points="80.00,343.00 113.50,343.00 116.50,348.50 77.00,348.50" fill="#5a78d8" stroke="none" stroke-width="0" />
<text transform="translate(96.80,347.30) scale(1,1.0)" x="0" y="0" font-size="5.0" font-weight="bold" fill="#fff" stroke="#fff" stroke-width="0.25" text-anchor="middle" font-family="Liberation Sans"  style="">Unstable CF</text>
<text transform="translate(96.20,357.30) scale(1,1.0)" x="0" y="0" font-size="4.9" font-weight="bold" fill="#000" stroke="#000" stroke-width="0.25" text-anchor="middle" font-family="Liberation Sans"  style="">LRS</text>
<path d="M117.5,277.6 Q119.6,277.6 119.6,280 L119.6,288 Q119.6,290.6 117.5,290.6" fill="none" stroke="#888" stroke-width="0.6" />
<path d="M117.5,292.6 Q119.6,292.6 119.6,295 L119.6,303.5 Q119.6,306 117.5,306" fill="none" stroke="#888" stroke-width="0.6" />
<text transform="translate(134.80,284.80) scale(1,1.0)" x="0" y="0" font-size="4.7" font-weight="normal" fill="#4a6ae0" stroke="#4a6ae0" stroke-width="0.12" text-anchor="middle" font-family="Liberation Sans"  style="">Memory</text>
<text transform="translate(134.80,290.40) scale(1,1.0)" x="0" y="0" font-size="4.7" font-weight="normal" fill="#4a6ae0" stroke="#4a6ae0" stroke-width="0.12" text-anchor="middle" font-family="Liberation Sans"  style="">part</text>
<text transform="translate(136.50,298.60) scale(1,1.0)" x="0" y="0" font-size="4.7" font-weight="normal" fill="#4a6ae0" stroke="#4a6ae0" stroke-width="0.12" text-anchor="middle" font-family="Liberation Sans"  style="">Computation</text>
<text transform="translate(136.50,304.40) scale(1,1.0)" x="0" y="0" font-size="4.7" font-weight="normal" fill="#4a6ae0" stroke="#4a6ae0" stroke-width="0.12" text-anchor="middle" font-family="Liberation Sans"  style="">part</text>
<path d="M119.5,309.3 C125.5,310 128.5,316 123.6,321.2" fill="none" stroke="#505050" stroke-width="2.2" />
<polygon points="119.80,324.20 121.60,318.60 126.00,322.40" fill="#505050" stroke="none" stroke-width="0" />
<text transform="translate(135.00,328.40) scale(1,1.0)" x="0" y="0" font-size="4.8" font-weight="bold" fill="#f01010" stroke="#f01010" stroke-width="0.25" text-anchor="middle" font-family="Liberation Sans"  style="">Electric</text>
<text transform="translate(135.20,335.30) scale(1,1.0)" x="0" y="0" font-size="4.8" font-weight="bold" fill="#f01010" stroke="#f01010" stroke-width="0.25" text-anchor="middle" font-family="Liberation Sans"  style="">stimuli</text>
<text transform="translate(147.40,275.00) scale(1,1.0)" x="0" y="0" font-size="14" font-weight="normal" fill="#000" stroke="#000" stroke-width="0.35" text-anchor="start" font-family="Liberation Sans"  style="">g</text>
<rect x="179.30" y="279.70" width="113.20" height="81.30" fill="none" stroke="#333" stroke-width="0.8" />
<text transform="translate(177.80,359.00) scale(1,1.0)" x="0" y="0" font-size="5.6" font-weight="bold" fill="#222" stroke="#222" stroke-width="0.25" text-anchor="end" font-family="Liberation Sans"  style="">0</text>
<line x1="179.30" y1="357.00" x2="180.90" y2="357.00" stroke="#333" stroke-width="0.6" />
<text transform="translate(177.80,340.60) scale(1,1.0)" x="0" y="0" font-size="5.6" font-weight="bold" fill="#222" stroke="#222" stroke-width="0.25" text-anchor="end" font-family="Liberation Sans"  style="">50</text>
<line x1="179.30" y1="338.60" x2="180.90" y2="338.60" stroke="#333" stroke-width="0.6" />
<text transform="translate(177.80,322.20) scale(1,1.0)" x="0" y="0" font-size="5.6" font-weight="bold" fill="#222" stroke="#222" stroke-width="0.25" text-anchor="end" font-family="Liberation Sans"  style="">100</text>
<line x1="179.30" y1="320.20" x2="180.90" y2="320.20" stroke="#333" stroke-width="0.6" />
<text transform="translate(177.80,303.80) scale(1,1.0)" x="0" y="0" font-size="5.6" font-weight="bold" fill="#222" stroke="#222" stroke-width="0.25" text-anchor="end" font-family="Liberation Sans"  style="">150</text>
<line x1="179.30" y1="301.80" x2="180.90" y2="301.80" stroke="#333" stroke-width="0.6" />
<text transform="translate(177.80,285.40) scale(1,1.0)" x="0" y="0" font-size="5.6" font-weight="bold" fill="#222" stroke="#222" stroke-width="0.25" text-anchor="end" font-family="Liberation Sans"  style="">200</text>
<line x1="179.30" y1="283.40" x2="180.90" y2="283.40" stroke="#333" stroke-width="0.6" />
<line x1="179.30" y1="357.00" x2="180.30" y2="357.00" stroke="#333" stroke-width="0.4" />
<line x1="179.30" y1="347.80" x2="180.30" y2="347.80" stroke="#333" stroke-width="0.4" />
<line x1="179.30" y1="338.60" x2="180.30" y2="338.60" stroke="#333" stroke-width="0.4" />
<line x1="179.30" y1="329.40" x2="180.30" y2="329.40" stroke="#333" stroke-width="0.4" />
<line x1="179.30" y1="320.20" x2="180.30" y2="320.20" stroke="#333" stroke-width="0.4" />
<line x1="179.30" y1="311.00" x2="180.30" y2="311.00" stroke="#333" stroke-width="0.4" />
<line x1="179.30" y1="301.80" x2="180.30" y2="301.80" stroke="#333" stroke-width="0.4" />
<line x1="179.30" y1="292.60" x2="180.30" y2="292.60" stroke="#333" stroke-width="0.4" />
<line x1="179.30" y1="283.40" x2="180.30" y2="283.40" stroke="#333" stroke-width="0.4" />
<text transform="translate(183.80,368.30) scale(1,1.0)" x="0" y="0" font-size="5.6" font-weight="bold" fill="#111" stroke="#111" stroke-width="0.25" text-anchor="middle" font-family="Liberation Sans"  style="">0.0</text>
<text transform="translate(204.68,368.30) scale(1,1.0)" x="0" y="0" font-size="5.6" font-weight="bold" fill="#111" stroke="#111" stroke-width="0.25" text-anchor="middle" font-family="Liberation Sans"  style="">0.2</text>
<text transform="translate(225.56,368.30) scale(1,1.0)" x="0" y="0" font-size="5.6" font-weight="bold" fill="#111" stroke="#111" stroke-width="0.25" text-anchor="middle" font-family="Liberation Sans"  style="">0.4</text>
<text transform="translate(246.44,368.30) scale(1,1.0)" x="0" y="0" font-size="5.6" font-weight="bold" fill="#111" stroke="#111" stroke-width="0.25" text-anchor="middle" font-family="Liberation Sans"  style="">0.6</text>
<text transform="translate(267.32,368.30) scale(1,1.0)" x="0" y="0" font-size="5.6" font-weight="bold" fill="#111" stroke="#111" stroke-width="0.25" text-anchor="middle" font-family="Liberation Sans"  style="">0.8</text>
<text transform="translate(288.20,368.30) scale(1,1.0)" x="0" y="0" font-size="5.6" font-weight="bold" fill="#111" stroke="#111" stroke-width="0.25" text-anchor="middle" font-family="Liberation Sans"  style="">1.0</text>
<line x1="183.80" y1="361.00" x2="183.80" y2="359.40" stroke="#333" stroke-width="0.5" />
<line x1="194.24" y1="361.00" x2="194.24" y2="360.00" stroke="#333" stroke-width="0.5" />
<line x1="204.68" y1="361.00" x2="204.68" y2="359.40" stroke="#333" stroke-width="0.5" />
<line x1="215.12" y1="361.00" x2="215.12" y2="360.00" stroke="#333" stroke-width="0.5" />
<line x1="225.56" y1="361.00" x2="225.56" y2="359.40" stroke="#333" stroke-width="0.5" />
<line x1="236.00" y1="361.00" x2="236.00" y2="360.00" stroke="#333" stroke-width="0.5" />
<line x1="246.44" y1="361.00" x2="246.44" y2="359.40" stroke="#333" stroke-width="0.5" />
<line x1="256.88" y1="361.00" x2="256.88" y2="360.00" stroke="#333" stroke-width="0.5" />
<line x1="267.32" y1="361.00" x2="267.32" y2="359.40" stroke="#333" stroke-width="0.5" />
<line x1="277.76" y1="361.00" x2="277.76" y2="360.00" stroke="#333" stroke-width="0.5" />
<line x1="288.20" y1="361.00" x2="288.20" y2="359.40" stroke="#333" stroke-width="0.5" />
<text transform="translate(161.60,320.50) rotate(-90) scale(1,1.15)" x="0" y="0" font-size="8.0" font-weight="bold" fill="#000" stroke="#000" stroke-width="0.25" text-anchor="middle" font-family="Liberation Sans" >SRDP<tspan font-size="5.0" dy="1.6">gain</tspan></text>
<text transform="translate(216.10,377.30) scale(1,1.0)" x="0" y="0" font-size="9.8" font-weight="bold" fill="#000" stroke="#000" stroke-width="0.25" text-anchor="start" font-family="Liberation Sans"  style=""><tspan font-style="italic">t</tspan><tspan font-size="5.8" dy="2.6">interval</tspan><tspan dy="-2.6"> (ms)</tspan></text>
<rect x="183.60" y="290.70" width="2.20" height="2.20" fill="#111" stroke="none" stroke-width="0" />
<line x1="184.70" y1="289.60" x2="184.70" y2="294.00" stroke="#111" stroke-width="0.6" />
<line x1="183.70" y1="289.60" x2="185.70" y2="289.60" stroke="#111" stroke-width="0.5" />
<line x1="183.70" y1="294.00" x2="185.70" y2="294.00" stroke="#111" stroke-width="0.5" />
<rect x="184.30" y="312.90" width="2.20" height="2.20" fill="#111" stroke="none" stroke-width="0" />
<line x1="185.40" y1="312.00" x2="185.40" y2="316.00" stroke="#111" stroke-width="0.6" />
<line x1="184.40" y1="312.00" x2="186.40" y2="312.00" stroke="#111" stroke-width="0.5" />
<line x1="184.40" y1="316.00" x2="186.40" y2="316.00" stroke="#111" stroke-width="0.5" />
<rect x="185.20" y="327.20" width="2.20" height="2.20" fill="#111" stroke="none" stroke-width="0" />
<line x1="186.30" y1="326.70" x2="186.30" y2="329.90" stroke="#111" stroke-width="0.6" />
<line x1="185.30" y1="326.70" x2="187.30" y2="326.70" stroke="#111" stroke-width="0.5" />
<line x1="185.30" y1="329.90" x2="187.30" y2="329.90" stroke="#111" stroke-width="0.5" />
<rect x="188.40" y="335.20" width="2.20" height="2.20" fill="#111" stroke="none" stroke-width="0" />
<line x1="189.50" y1="333.90" x2="189.50" y2="338.70" stroke="#111" stroke-width="0.6" />
<line x1="188.50" y1="333.90" x2="190.50" y2="333.90" stroke="#111" stroke-width="0.5" />
<line x1="188.50" y1="338.70" x2="190.50" y2="338.70" stroke="#111" stroke-width="0.5" />
<rect x="193.80" y="340.90" width="2.20" height="2.20" fill="#111" stroke="none" stroke-width="0" />
<line x1="194.90" y1="339.80" x2="194.90" y2="344.20" stroke="#111" stroke-width="0.6" />
<line x1="193.90" y1="339.80" x2="195.90" y2="339.80" stroke="#111" stroke-width="0.5" />
<line x1="193.90" y1="344.20" x2="195.90" y2="344.20" stroke="#111" stroke-width="0.5" />
<rect x="203.60" y="347.20" width="2.20" height="2.20" fill="#111" stroke="none" stroke-width="0" />
<line x1="204.70" y1="346.70" x2="204.70" y2="349.90" stroke="#111" stroke-width="0.6" />
<line x1="203.70" y1="346.70" x2="205.70" y2="346.70" stroke="#111" stroke-width="0.5" />
<line x1="203.70" y1="349.90" x2="205.70" y2="349.90" stroke="#111" stroke-width="0.5" />
<rect x="235.10" y="351.40" width="2.20" height="2.20" fill="#111" stroke="none" stroke-width="0" />
<rect x="286.30" y="354.20" width="2.20" height="2.20" fill="#111" stroke="none" stroke-width="0" />
<polyline points="242.30,308.00 247.40,308.00 247.40,289.40 257.40,289.40 257.40,308.00 268.00,308.00 268.00,289.40 278.40,289.40 278.40,308.00 282.80,308.00" fill="none" stroke="#7a7a7a" stroke-width="0.8" />
<text transform="translate(252.60,286.20) scale(1,1.0)" x="0" y="0" font-size="6.5" font-weight="bold" fill="#000" stroke="#000" stroke-width="0.25" text-anchor="middle" font-family="Liberation Sans"  style="">4 V</text>
<text transform="translate(274.00,286.20) scale(1,1.0)" x="0" y="0" font-size="6.5" font-weight="bold" fill="#000" stroke="#000" stroke-width="0.25" text-anchor="middle" font-family="Liberation Sans"  style="">4 V</text>
<text transform="translate(253.00,314.60) scale(1,1.0)" x="0" y="0" font-size="6.0" font-weight="bold" fill="#000" stroke="#000" stroke-width="0.25" text-anchor="middle" font-family="Liberation Sans"  style="">1 ms</text>
<text transform="translate(273.70,314.60) scale(1,1.0)" x="0" y="0" font-size="6.0" font-weight="bold" fill="#000" stroke="#000" stroke-width="0.25" text-anchor="middle" font-family="Liberation Sans"  style="">1 ms</text>
<text transform="translate(254.30,295.30) scale(1,1.0)" x="0" y="0" font-size="5.6" font-weight="bold" fill="#000" stroke="#000" stroke-width="0.25" text-anchor="start" font-family="Liberation Sans"  style=""><tspan font-style="italic">t</tspan><tspan font-size="3.8" dy="1.6" font-weight="bold">interval</tspan></text>
<line x1="259.00" y1="299.40" x2="267.00" y2="299.40" stroke="#222" stroke-width="0.5" stroke-dasharray="1,0.8"/>
<circle cx="258.60" cy="299.40" r="0.60" fill="#222" stroke="none" stroke-width="0" />
<circle cx="267.40" cy="299.40" r="0.60" fill="#222" stroke="none" stroke-width="0" />
<text transform="translate(299.20,275.80) scale(1,1.0)" x="0" y="0" font-size="14" font-weight="normal" fill="#000" stroke="#000" stroke-width="0.35" text-anchor="start" font-family="Liberation Sans"  style="">h</text>
<text transform="translate(314.80,277.20) scale(1,1.0)" x="0" y="0" font-size="5.9" font-weight="bold" fill="#000" stroke="#000" stroke-width="0.25" text-anchor="start" font-family="Liberation Sans"  style="">Pre-spike</text>
<text transform="translate(395.20,277.20) scale(1,1.0)" x="0" y="0" font-size="5.95" font-weight="bold" fill="#000" stroke="#000" stroke-width="0.25" text-anchor="start" font-family="Liberation Sans"  style="">Post-spike</text>
<line x1="342.00" y1="275.50" x2="353.00" y2="275.50" stroke="#222" stroke-width="0.6" />
<polygon points="355.60,275.50 352.60,274.10 352.60,276.90" fill="#222" stroke="none" stroke-width="0" />
<line x1="386.00" y1="275.50" x2="394.00" y2="275.50" stroke="#222" stroke-width="0.6" />
<polygon points="383.40,275.50 386.40,274.10 386.40,276.90" fill="#222" stroke="none" stroke-width="0" />
<rect x="347.40" y="271.80" width="44.60" height="23.90" fill="none" stroke="#f0c050" stroke-width="0.7" stroke-dasharray="1.6,1"/>
<polyline points="330.70,288.40 330.70,279.00 358.90,279.00" fill="none" stroke="#444" stroke-width="0.7" />
<polyline points="377.80,279.00 406.10,279.00 406.10,288.40" fill="none" stroke="#444" stroke-width="0.7" />
<rect x="358.90" y="275.60" width="18.90" height="6.00" fill="#fff" stroke="#333" stroke-width="0.7" />
<rect x="358.90" y="275.60" width="2.20" height="6.00" fill="#111" stroke="none" stroke-width="0" />
<text transform="translate(370.20,288.50) scale(1,1.0)" x="0" y="0" font-size="5.76" font-weight="bold" fill="#000" stroke="#000" stroke-width="0.25" text-anchor="middle" font-family="Liberation Sans"  style="">Artificial synapse</text>
<circle cx="331.00" cy="293.10" r="4.80" fill="#f0a068" stroke="#b86a38" stroke-width="0.8" />
<path d="M328.4,294.9 L329.7,294.9 L329.7,291.2 L332.3,291.2 L332.3,294.9 L333.6,294.9" fill="none" stroke="#5a2a10" stroke-width="0.7" />
<line x1="331.00" y1="298.10" x2="331.00" y2="303.00" stroke="#444" stroke-width="0.6" />
<line x1="328.60" y1="303.00" x2="333.40" y2="303.00" stroke="#444" stroke-width="0.6" />
<line x1="329.50" y1="304.00" x2="332.50" y2="304.00" stroke="#444" stroke-width="0.5" />
<line x1="330.40" y1="305.00" x2="331.60" y2="305.00" stroke="#444" stroke-width="0.5" />
<circle cx="406.90" cy="293.10" r="4.80" fill="#80a4e8" stroke="#3a5aa0" stroke-width="0.8" />
<path d="M404.29999999999995,294.9 L405.59999999999997,294.9 L405.59999999999997,291.2 L408.2,291.2 L408.2,294.9 L409.5,294.9" fill="none" stroke="#1a2a60" stroke-width="0.7" />
<line x1="406.90" y1="298.10" x2="406.90" y2="303.00" stroke="#444" stroke-width="0.6" />
<line x1="404.50" y1="303.00" x2="409.30" y2="303.00" stroke="#444" stroke-width="0.6" />
<line x1="405.40" y1="304.00" x2="408.40" y2="304.00" stroke="#444" stroke-width="0.5" />
<line x1="406.30" y1="305.00" x2="407.50" y2="305.00" stroke="#444" stroke-width="0.5" />
<rect x="316.30" y="313.70" width="105.40" height="48.90" fill="none" stroke="#444" stroke-width="0.7" />
<line x1="316.30" y1="338.70" x2="421.70" y2="338.70" stroke="#666" stroke-width="0.6" />
<text transform="translate(316.60,368.00) scale(1,1.0)" x="0" y="0" font-size="4.2" font-weight="bold" fill="#222" stroke="#222" stroke-width="0.25" text-anchor="middle" font-family="Liberation Sans"  style="">0.0</text>
<text transform="translate(342.08,368.00) scale(1,1.0)" x="0" y="0" font-size="4.2" font-weight="bold" fill="#222" stroke="#222" stroke-width="0.25" text-anchor="middle" font-family="Liberation Sans"  style="">0.5</text>
<text transform="translate(367.55,368.00) scale(1,1.0)" x="0" y="0" font-size="4.2" font-weight="bold" fill="#222" stroke="#222" stroke-width="0.25" text-anchor="middle" font-family="Liberation Sans"  style="">1.0</text>
<text transform="translate(393.02,368.00) scale(1,1.0)" x="0" y="0" font-size="4.2" font-weight="bold" fill="#222" stroke="#222" stroke-width="0.25" text-anchor="middle" font-family="Liberation Sans"  style="">1.5</text>
<text transform="translate(418.50,368.00) scale(1,1.0)" x="0" y="0" font-size="4.2" font-weight="bold" fill="#222" stroke="#222" stroke-width="0.25" text-anchor="middle" font-family="Liberation Sans"  style="">2.0</text>
<line x1="316.60" y1="362.60" x2="316.60" y2="361.40" stroke="#444" stroke-width="0.4" />
<line x1="316.60" y1="338.70" x2="316.60" y2="337.50" stroke="#444" stroke-width="0.4" />
<line x1="321.70" y1="362.60" x2="321.70" y2="362.00" stroke="#444" stroke-width="0.4" />
<line x1="321.70" y1="338.70" x2="321.70" y2="338.10" stroke="#444" stroke-width="0.4" />
<line x1="326.79" y1="362.60" x2="326.79" y2="362.00" stroke="#444" stroke-width="0.4" />
<line x1="326.79" y1="338.70" x2="326.79" y2="338.10" stroke="#444" stroke-width="0.4" />
<line x1="331.89" y1="362.60" x2="331.89" y2="362.00" stroke="#444" stroke-width="0.4" />
<line x1="331.89" y1="338.70" x2="331.89" y2="338.10" stroke="#444" stroke-width="0.4" />
<line x1="336.98" y1="362.60" x2="336.98" y2="362.00" stroke="#444" stroke-width="0.4" />
<line x1="336.98" y1="338.70" x2="336.98" y2="338.10" stroke="#444" stroke-width="0.4" />
<line x1="342.08" y1="362.60" x2="342.08" y2="361.40" stroke="#444" stroke-width="0.4" />
<line x1="342.08" y1="338.70" x2="342.08" y2="337.50" stroke="#444" stroke-width="0.4" />
<line x1="347.17" y1="362.60" x2="347.17" y2="362.00" stroke="#444" stroke-width="0.4" />
<line x1="347.17" y1="338.70" x2="347.17" y2="338.10" stroke="#444" stroke-width="0.4" />
<line x1="352.26" y1="362.60" x2="352.26" y2="362.00" stroke="#444" stroke-width="0.4" />
<line x1="352.26" y1="338.70" x2="352.26" y2="338.10" stroke="#444" stroke-width="0.4" />
<line x1="357.36" y1="362.60" x2="357.36" y2="362.00" stroke="#444" stroke-width="0.4" />
<line x1="357.36" y1="338.70" x2="357.36" y2="338.10" stroke="#444" stroke-width="0.4" />
<line x1="362.46" y1="362.60" x2="362.46" y2="362.00" stroke="#444" stroke-width="0.4" />
<line x1="362.46" y1="338.70" x2="362.46" y2="338.10" stroke="#444" stroke-width="0.4" />
<line x1="367.55" y1="362.60" x2="367.55" y2="361.40" stroke="#444" stroke-width="0.4" />
<line x1="367.55" y1="338.70" x2="367.55" y2="337.50" stroke="#444" stroke-width="0.4" />
<line x1="372.65" y1="362.60" x2="372.65" y2="362.00" stroke="#444" stroke-width="0.4" />
<line x1="372.65" y1="338.70" x2="372.65" y2="338.10" stroke="#444" stroke-width="0.4" />
<line x1="377.74" y1="362.60" x2="377.74" y2="362.00" stroke="#444" stroke-width="0.4" />
<line x1="377.74" y1="338.70" x2="377.74" y2="338.10" stroke="#444" stroke-width="0.4" />
<line x1="382.84" y1="362.60" x2="382.84" y2="362.00" stroke="#444" stroke-width="0.4" />
<line x1="382.84" y1="338.70" x2="382.84" y2="338.10" stroke="#444" stroke-width="0.4" />
<line x1="387.93" y1="362.60" x2="387.93" y2="362.00" stroke="#444" stroke-width="0.4" />
<line x1="387.93" y1="338.70" x2="387.93" y2="338.10" stroke="#444" stroke-width="0.4" />
<line x1="393.02" y1="362.60" x2="393.02" y2="361.40" stroke="#444" stroke-width="0.4" />
<line x1="393.02" y1="338.70" x2="393.02" y2="337.50" stroke="#444" stroke-width="0.4" />
<line x1="398.12" y1="362.60" x2="398.12" y2="362.00" stroke="#444" stroke-width="0.4" />
<line x1="398.12" y1="338.70" x2="398.12" y2="338.10" stroke="#444" stroke-width="0.4" />
<line x1="403.22" y1="362.60" x2="403.22" y2="362.00" stroke="#444" stroke-width="0.4" />
<line x1="403.22" y1="338.70" x2="403.22" y2="338.10" stroke="#444" stroke-width="0.4" />
<line x1="408.31" y1="362.60" x2="408.31" y2="362.00" stroke="#444" stroke-width="0.4" />
<line x1="408.31" y1="338.70" x2="408.31" y2="338.10" stroke="#444" stroke-width="0.4" />
<line x1="413.40" y1="362.60" x2="413.40" y2="362.00" stroke="#444" stroke-width="0.4" />
<line x1="413.40" y1="338.70" x2="413.40" y2="338.10" stroke="#444" stroke-width="0.4" />
<line x1="418.50" y1="362.60" x2="418.50" y2="361.40" stroke="#444" stroke-width="0.4" />
<line x1="418.50" y1="338.70" x2="418.50" y2="337.50" stroke="#444" stroke-width="0.4" />
<text transform="translate(315.00,318.50) scale(1,1.0)" x="0" y="0" font-size="4.0" font-weight="bold" fill="#222" stroke="#222" stroke-width="0.25" text-anchor="end" font-family="Liberation Sans"  style="">4</text>
<text transform="translate(315.00,328.20) scale(1,1.0)" x="0" y="0" font-size="4.0" font-weight="bold" fill="#222" stroke="#222" stroke-width="0.25" text-anchor="end" font-family="Liberation Sans"  style="">0</text>
<text transform="translate(315.00,338.00) scale(1,1.0)" x="0" y="0" font-size="4.0" font-weight="bold" fill="#222" stroke="#222" stroke-width="0.25" text-anchor="end" font-family="Liberation Sans"  style="">-4</text>
<text transform="translate(315.00,342.40) scale(1,1.0)" x="0" y="0" font-size="4.0" font-weight="bold" fill="#222" stroke="#222" stroke-width="0.25" text-anchor="end" font-family="Liberation Sans"  style="">4</text>
<text transform="translate(315.00,352.20) scale(1,1.0)" x="0" y="0" font-size="4.0" font-weight="bold" fill="#222" stroke="#222" stroke-width="0.25" text-anchor="end" font-family="Liberation Sans"  style="">0</text>
<text transform="translate(315.00,361.30) scale(1,1.0)" x="0" y="0" font-size="4.0" font-weight="bold" fill="#222" stroke="#222" stroke-width="0.25" text-anchor="end" font-family="Liberation Sans"  style="">-4</text>
<text transform="translate(307.40,339.80) rotate(-90) scale(1,1.0)" x="0" y="0" font-size="5.6" font-weight="bold" fill="#000" stroke="#000" stroke-width="0.25" text-anchor="middle" font-family="Liberation Sans" >Voltage (V)</text>
<text transform="translate(369.60,379.80) scale(1,1.0)" x="0" y="0" font-size="9.7" font-weight="bold" fill="#000" stroke="#000" stroke-width="0.25" text-anchor="middle" font-family="Liberation Sans"  style="">Time (ms)</text>
<polyline points="316.30,326.70 342.40,326.70 342.40,336.00 357.60,336.00 357.60,326.70 372.40,326.70 372.40,317.00 397.80,317.00 397.80,326.70 421.70,326.70" fill="none" stroke="#f07070" stroke-width="0.8" />
<polyline points="316.30,351.00 342.40,351.00 342.40,341.50 368.00,341.50 368.00,351.00 382.60,351.00 382.60,360.40 397.80,360.40 397.80,351.00 421.70,351.00" fill="none" stroke="#7890f0" stroke-width="0.8" />
<text transform="translate(317.80,318.60) scale(1,1.0)" x="0" y="0" font-size="4.9" font-weight="bold" fill="#f01818" stroke="#f01818" stroke-width="0.25" text-anchor="start" font-family="Liberation Sans"  style="">Potentiation</text>
<text transform="translate(317.80,361.20) scale(1,1.0)" x="0" y="0" font-size="4.9" font-weight="bold" fill="#3050f0" stroke="#3050f0" stroke-width="0.25" text-anchor="start" font-family="Liberation Sans"  style="">Depression</text>
<text transform="translate(348.60,326.00) scale(1,1.0)" x="0" y="0" font-size="4.8" font-weight="bold" fill="#000" stroke="#000" stroke-width="0.25" text-anchor="middle" font-family="Liberation Sans"  style="">Pre-spike</text>
<text transform="translate(384.60,326.00) scale(1,1.0)" x="0" y="0" font-size="4.8" font-weight="bold" fill="#000" stroke="#000" stroke-width="0.25" text-anchor="middle" font-family="Liberation Sans"  style="">Post-spike</text>
<text transform="translate(354.90,351.00) scale(1,1.0)" x="0" y="0" font-size="4.8" font-weight="bold" fill="#000" stroke="#000" stroke-width="0.25" text-anchor="middle" font-family="Liberation Sans"  style="">Post-spike</text>
<text transform="translate(390.20,349.60) scale(1,1.0)" x="0" y="0" font-size="4.8" font-weight="bold" fill="#000" stroke="#000" stroke-width="0.25" text-anchor="middle" font-family="Liberation Sans"  style="">Pre-spike</text>
<line x1="359.20" y1="327.80" x2="370.80" y2="327.80" stroke="#222" stroke-width="0.9" />
<polygon points="357.60,327.80 359.60,326.60 359.60,329.00" fill="#222" stroke="none" stroke-width="0" />
<polygon points="372.40,327.80 370.40,326.60 370.40,329.00" fill="#222" stroke="none" stroke-width="0" />
<line x1="370.10" y1="352.40" x2="381.00" y2="352.40" stroke="#222" stroke-width="0.9" />
<polygon points="368.50,352.40 370.50,351.20 370.50,353.60" fill="#222" stroke="none" stroke-width="0" />
<polygon points="382.60,352.40 380.60,351.20 380.60,353.60" fill="#222" stroke="none" stroke-width="0" />
<text transform="translate(368.00,334.90) scale(1,1.0)" x="0" y="0" font-size="6.6" font-weight="bold" fill="#000" stroke="#000" stroke-width="0.25" text-anchor="middle" font-family="Liberation Sans"  style=""><tspan font-style="italic">Δt</tspan> &gt; 0</text>
<text transform="translate(374.50,359.80) scale(1,1.0)" x="0" y="0" font-size="6.6" font-weight="bold" fill="#000" stroke="#000" stroke-width="0.25" text-anchor="middle" font-family="Liberation Sans"  style=""><tspan font-style="italic">Δt</tspan> &gt; 0</text>
<rect x="457.90" y="282.20" width="110.90" height="79.50" fill="none" stroke="#333" stroke-width="0.8" />
<text transform="translate(456.20,286.00) scale(1,1.0)" x="0" y="0" font-size="5.4" font-weight="bold" fill="#222" stroke="#222" stroke-width="0.25" text-anchor="end" font-family="Liberation Sans"  style="">300</text>
<line x1="457.90" y1="284.00" x2="459.50" y2="284.00" stroke="#333" stroke-width="0.6" />
<text transform="translate(456.20,298.60) scale(1,1.0)" x="0" y="0" font-size="5.4" font-weight="bold" fill="#222" stroke="#222" stroke-width="0.25" text-anchor="end" font-family="Liberation Sans"  style="">200</text>
<line x1="457.90" y1="296.60" x2="459.50" y2="296.60" stroke="#333" stroke-width="0.6" />
<text transform="translate(456.20,311.20) scale(1,1.0)" x="0" y="0" font-size="5.4" font-weight="bold" fill="#222" stroke="#222" stroke-width="0.25" text-anchor="end" font-family="Liberation Sans"  style="">100</text>
<line x1="457.90" y1="309.20" x2="459.50" y2="309.20" stroke="#333" stroke-width="0.6" />
<text transform="translate(456.20,323.80) scale(1,1.0)" x="0" y="0" font-size="5.4" font-weight="bold" fill="#222" stroke="#222" stroke-width="0.25" text-anchor="end" font-family="Liberation Sans"  style="">0</text>
<line x1="457.90" y1="321.80" x2="459.50" y2="321.80" stroke="#333" stroke-width="0.6" />
<text transform="translate(456.20,336.40) scale(1,1.0)" x="0" y="0" font-size="5.4" font-weight="bold" fill="#222" stroke="#222" stroke-width="0.25" text-anchor="end" font-family="Liberation Sans"  style="">-100</text>
<line x1="457.90" y1="334.40" x2="459.50" y2="334.40" stroke="#333" stroke-width="0.6" />
<text transform="translate(456.20,349.00) scale(1,1.0)" x="0" y="0" font-size="5.4" font-weight="bold" fill="#222" stroke="#222" stroke-width="0.25" text-anchor="end" font-family="Liberation Sans"  style="">-200</text>
<line x1="457.90" y1="347.00" x2="459.50" y2="347.00" stroke="#333" stroke-width="0.6" />
<text transform="translate(456.20,361.60) scale(1,1.0)" x="0" y="0" font-size="5.4" font-weight="bold" fill="#222" stroke="#222" stroke-width="0.25" text-anchor="end" font-family="Liberation Sans"  style="">-300</text>
<line x1="457.90" y1="359.60" x2="459.50" y2="359.60" stroke="#333" stroke-width="0.6" />
<line x1="457.90" y1="359.60" x2="458.90" y2="359.60" stroke="#333" stroke-width="0.4" />
<line x1="457.90" y1="353.30" x2="458.90" y2="353.30" stroke="#333" stroke-width="0.4" />
<line x1="457.90" y1="347.00" x2="458.90" y2="347.00" stroke="#333" stroke-width="0.4" />
<line x1="457.90" y1="340.70" x2="458.90" y2="340.70" stroke="#333" stroke-width="0.4" />
<line x1="457.90" y1="334.40" x2="458.90" y2="334.40" stroke="#333" stroke-width="0.4" />
<line x1="457.90" y1="328.10" x2="458.90" y2="328.10" stroke="#333" stroke-width="0.4" />
<line x1="457.90" y1="321.80" x2="458.90" y2="321.80" stroke="#333" stroke-width="0.4" />
<line x1="457.90" y1="315.50" x2="458.90" y2="315.50" stroke="#333" stroke-width="0.4" />
<line x1="457.90" y1="309.20" x2="458.90" y2="309.20" stroke="#333" stroke-width="0.4" />
<line x1="457.90" y1="302.90" x2="458.90" y2="302.90" stroke="#333" stroke-width="0.4" />
<line x1="457.90" y1="296.60" x2="458.90" y2="296.60" stroke="#333" stroke-width="0.4" />
<line x1="457.90" y1="290.30" x2="458.90" y2="290.30" stroke="#333" stroke-width="0.4" />
<line x1="457.90" y1="284.00" x2="458.90" y2="284.00" stroke="#333" stroke-width="0.4" />
<text transform="translate(468.20,368.40) scale(1,1.0)" x="0" y="0" font-size="5.4" font-weight="bold" fill="#222" stroke="#222" stroke-width="0.25" text-anchor="middle" font-family="Liberation Sans"  style="">-0.8</text>
<text transform="translate(489.50,368.40) scale(1,1.0)" x="0" y="0" font-size="5.4" font-weight="bold" fill="#222" stroke="#222" stroke-width="0.25" text-anchor="middle" font-family="Liberation Sans"  style="">-0.4</text>
<text transform="translate(511.80,368.40) scale(1,1.0)" x="0" y="0" font-size="5.4" font-weight="bold" fill="#222" stroke="#222" stroke-width="0.25" text-anchor="middle" font-family="Liberation Sans"  style="">0.0</text>
<text transform="translate(533.10,368.40) scale(1,1.0)" x="0" y="0" font-size="5.4" font-weight="bold" fill="#222" stroke="#222" stroke-width="0.25" text-anchor="middle" font-family="Liberation Sans"  style="">0.4</text>
<text transform="translate(554.40,368.40) scale(1,1.0)" x="0" y="0" font-size="5.4" font-weight="bold" fill="#222" stroke="#222" stroke-width="0.25" text-anchor="middle" font-family="Liberation Sans"  style="">0.8</text>
<line x1="458.55" y1="361.70" x2="458.55" y2="360.70" stroke="#333" stroke-width="0.5" />
<line x1="469.20" y1="361.70" x2="469.20" y2="360.10" stroke="#333" stroke-width="0.5" />
<line x1="479.85" y1="361.70" x2="479.85" y2="360.70" stroke="#333" stroke-width="0.5" />
<line x1="490.50" y1="361.70" x2="490.50" y2="360.10" stroke="#333" stroke-width="0.5" />
<line x1="501.15" y1="361.70" x2="501.15" y2="360.70" stroke="#333" stroke-width="0.5" />
<line x1="511.80" y1="361.70" x2="511.80" y2="360.10" stroke="#333" stroke-width="0.5" />
<line x1="522.45" y1="361.70" x2="522.45" y2="360.70" stroke="#333" stroke-width="0.5" />
<line x1="533.10" y1="361.70" x2="533.10" y2="360.10" stroke="#333" stroke-width="0.5" />
<line x1="543.75" y1="361.70" x2="543.75" y2="360.70" stroke="#333" stroke-width="0.5" />
<line x1="554.40" y1="361.70" x2="554.40" y2="360.10" stroke="#333" stroke-width="0.5" />
<line x1="565.05" y1="361.70" x2="565.05" y2="360.70" stroke="#333" stroke-width="0.5" />
<text transform="translate(438.30,319.40) rotate(-90) scale(1,1.0)" x="0" y="0" font-size="8.0" font-weight="bold" fill="#000" stroke="#000" stroke-width="0.25" text-anchor="middle" font-family="Liberation Sans" >STDP<tspan font-size="5.0" dy="1.6">gain</tspan></text>
<text transform="translate(497.80,377.60) scale(1,1.0)" x="0" y="0" font-size="9.6" font-weight="bold" fill="#000" stroke="#000" stroke-width="0.25" text-anchor="start" font-family="Liberation Sans"  style=""><tspan font-style="italic">Δt</tspan> (ms)</text>
<text transform="translate(520.60,293.80) scale(1,1.0)" x="0" y="0" font-size="8.1" font-weight="bold" fill="#f81414" stroke="#f81414" stroke-width="0.25" text-anchor="start" font-family="Liberation Sans"  style="">Potentiation</text>
<text transform="translate(461.40,351.80) scale(1,1.0)" x="0" y="0" font-size="8.0" font-weight="bold" fill="#1a38f0" stroke="#1a38f0" stroke-width="0.25" text-anchor="start" font-family="Liberation Sans"  style="">Depression</text>
<circle cx="513.30" cy="291.30" r="1.35" fill="#f81414" stroke="none" stroke-width="0" />
<circle cx="513.30" cy="300.60" r="1.35" fill="#f81414" stroke="none" stroke-width="0" />
<circle cx="513.80" cy="304.40" r="1.35" fill="#f81414" stroke="none" stroke-width="0" />
<circle cx="515.30" cy="310.20" r="1.35" fill="#f81414" stroke="none" stroke-width="0" />
<circle cx="518.20" cy="313.70" r="1.35" fill="#f81414" stroke="none" stroke-width="0" />
<circle cx="523.50" cy="317.50" r="1.35" fill="#f81414" stroke="none" stroke-width="0" />
<circle cx="539.20" cy="319.50" r="1.35" fill="#f81414" stroke="none" stroke-width="0" />
<circle cx="566.30" cy="321.00" r="1.35" fill="#f81414" stroke="none" stroke-width="0" />
<circle cx="460.00" cy="328.30" r="1.35" fill="#1a38f0" stroke="none" stroke-width="0" />
<circle cx="486.20" cy="333.50" r="1.35" fill="#1a38f0" stroke="none" stroke-width="0" />
<circle cx="502.20" cy="341.70" r="1.35" fill="#1a38f0" stroke="none" stroke-width="0" />
<circle cx="507.40" cy="345.20" r="1.35" fill="#1a38f0" stroke="none" stroke-width="0" />
<circle cx="510.30" cy="349.20" r="1.35" fill="#1a38f0" stroke="none" stroke-width="0" />
<circle cx="511.80" cy="352.10" r="1.35" fill="#1a38f0" stroke="none" stroke-width="0" />
<circle cx="513.00" cy="353.90" r="1.35" fill="#1a38f0" stroke="none" stroke-width="0" />
</svg></body></html>
